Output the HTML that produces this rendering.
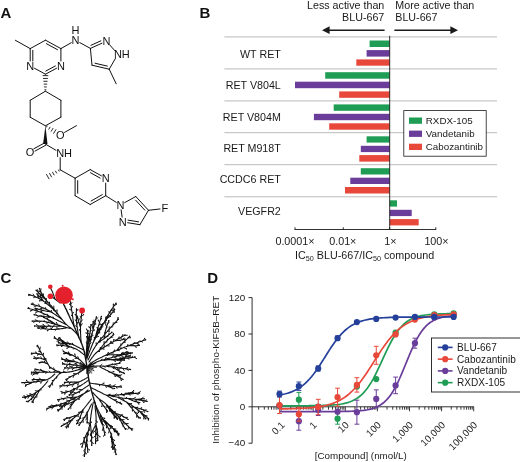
<!DOCTYPE html>
<html><head><meta charset="utf-8"><title>Figure</title>
<style>
html,body{margin:0;padding:0;background:#fff;}
svg{display:block;font-family:"Liberation Sans",Arial,Helvetica,sans-serif;}
.pl{font-weight:bold;font-size:15px;fill:#111;}
</style></head><body>
<svg width="520" height="462" viewBox="0 0 520 462">
<rect width="520" height="462" fill="#fff"/>
<g id="A">
<line x1="30.20" y1="48.60" x2="45.50" y2="40.20" stroke="#111" stroke-width="1.0" stroke-linecap="round"/>
<line x1="45.50" y1="40.20" x2="60.90" y2="48.60" stroke="#111" stroke-width="1.0" stroke-linecap="round"/>
<line x1="46.41" y1="43.66" x2="57.50" y2="49.71" stroke="#111" stroke-width="1.0" stroke-linecap="round"/>
<line x1="60.90" y1="48.60" x2="60.90" y2="61.00" stroke="#111" stroke-width="1.0" stroke-linecap="round"/>
<line x1="56.59" y1="68.22" x2="45.50" y2="74.20" stroke="#111" stroke-width="1.0" stroke-linecap="round"/>
<line x1="55.35" y1="65.94" x2="45.82" y2="71.07" stroke="#111" stroke-width="1.0" stroke-linecap="round"/>
<line x1="45.50" y1="74.20" x2="34.51" y2="68.24" stroke="#111" stroke-width="1.0" stroke-linecap="round"/>
<line x1="30.20" y1="61.00" x2="30.20" y2="48.60" stroke="#111" stroke-width="1.0" stroke-linecap="round"/>
<line x1="32.80" y1="61.00" x2="32.80" y2="50.34" stroke="#111" stroke-width="1.0" stroke-linecap="round"/>
<line x1="30.20" y1="48.60" x2="15.40" y2="40.30" stroke="#111" stroke-width="1.0" stroke-linecap="round"/>
<line x1="60.90" y1="48.60" x2="71.24" y2="42.72" stroke="#111" stroke-width="1.0" stroke-linecap="round"/>
<line x1="79.80" y1="42.64" x2="90.40" y2="48.40" stroke="#111" stroke-width="1.0" stroke-linecap="round"/>
<line x1="90.40" y1="48.40" x2="101.93" y2="43.21" stroke="#111" stroke-width="1.0" stroke-linecap="round"/>
<line x1="90.95" y1="45.30" x2="100.86" y2="40.84" stroke="#111" stroke-width="1.0" stroke-linecap="round"/>
<line x1="109.65" y1="44.87" x2="114.65" y2="50.53" stroke="#111" stroke-width="1.0" stroke-linecap="round"/>
<line x1="115.44" y1="58.44" x2="109.20" y2="69.20" stroke="#111" stroke-width="1.0" stroke-linecap="round"/>
<line x1="109.20" y1="69.20" x2="92.00" y2="65.20" stroke="#111" stroke-width="1.0" stroke-linecap="round"/>
<line x1="107.38" y1="66.11" x2="95.00" y2="63.23" stroke="#111" stroke-width="1.0" stroke-linecap="round"/>
<line x1="92.00" y1="65.20" x2="90.40" y2="48.40" stroke="#111" stroke-width="1.0" stroke-linecap="round"/>
<line x1="109.20" y1="69.20" x2="116.20" y2="83.80" stroke="#111" stroke-width="1.0" stroke-linecap="round"/>
<line x1="44.83" y1="89.78" x2="45.99" y2="89.79" stroke="#111" stroke-width="0.9" stroke-linecap="round"/>
<line x1="44.48" y1="86.94" x2="46.37" y2="86.96" stroke="#111" stroke-width="0.9" stroke-linecap="round"/>
<line x1="44.13" y1="84.11" x2="46.76" y2="84.12" stroke="#111" stroke-width="0.9" stroke-linecap="round"/>
<line x1="43.78" y1="81.27" x2="47.14" y2="81.29" stroke="#111" stroke-width="0.9" stroke-linecap="round"/>
<line x1="43.43" y1="78.44" x2="47.52" y2="78.46" stroke="#111" stroke-width="0.9" stroke-linecap="round"/>
<line x1="43.08" y1="75.60" x2="47.91" y2="75.63" stroke="#111" stroke-width="0.9" stroke-linecap="round"/>
<line x1="45.40" y1="91.20" x2="60.90" y2="100.30" stroke="#111" stroke-width="1.0" stroke-linecap="round"/>
<line x1="60.90" y1="100.30" x2="60.90" y2="117.20" stroke="#111" stroke-width="1.0" stroke-linecap="round"/>
<line x1="60.90" y1="117.20" x2="45.40" y2="125.80" stroke="#111" stroke-width="1.0" stroke-linecap="round"/>
<line x1="45.40" y1="125.80" x2="30.20" y2="117.20" stroke="#111" stroke-width="1.0" stroke-linecap="round"/>
<line x1="30.20" y1="117.20" x2="30.20" y2="100.30" stroke="#111" stroke-width="1.0" stroke-linecap="round"/>
<line x1="30.20" y1="100.30" x2="45.40" y2="91.20" stroke="#111" stroke-width="1.0" stroke-linecap="round"/>
<line x1="47.07" y1="126.05" x2="46.40" y2="127.16" stroke="#111" stroke-width="0.9" stroke-linecap="round"/>
<line x1="50.01" y1="127.24" x2="48.82" y2="129.21" stroke="#111" stroke-width="0.9" stroke-linecap="round"/>
<line x1="52.94" y1="128.43" x2="51.24" y2="131.25" stroke="#111" stroke-width="0.9" stroke-linecap="round"/>
<line x1="55.88" y1="129.62" x2="53.66" y2="133.30" stroke="#111" stroke-width="0.9" stroke-linecap="round"/>
<line x1="64.57" y1="132.39" x2="76.40" y2="125.70" stroke="#111" stroke-width="1.0" stroke-linecap="round"/>
<polygon points="45.40,125.80 43.10,143.99 47.50,144.01" fill="#111"/>
<line x1="44.68" y1="142.86" x2="33.78" y2="148.81" stroke="#111" stroke-width="1.0" stroke-linecap="round"/>
<line x1="45.92" y1="145.14" x2="35.02" y2="151.09" stroke="#111" stroke-width="1.0" stroke-linecap="round"/>
<line x1="45.30" y1="144.00" x2="55.98" y2="150.31" stroke="#111" stroke-width="1.0" stroke-linecap="round"/>
<line x1="60.20" y1="157.70" x2="60.20" y2="169.80" stroke="#111" stroke-width="1.0" stroke-linecap="round"/>
<line x1="59.12" y1="171.11" x2="58.52" y2="170.01" stroke="#111" stroke-width="0.9" stroke-linecap="round"/>
<line x1="56.59" y1="173.03" x2="55.53" y2="171.13" stroke="#111" stroke-width="0.9" stroke-linecap="round"/>
<line x1="54.05" y1="174.96" x2="52.55" y2="172.24" stroke="#111" stroke-width="0.9" stroke-linecap="round"/>
<line x1="51.51" y1="176.88" x2="49.57" y2="173.36" stroke="#111" stroke-width="0.9" stroke-linecap="round"/>
<line x1="48.97" y1="178.80" x2="46.59" y2="174.48" stroke="#111" stroke-width="0.9" stroke-linecap="round"/>
<line x1="60.20" y1="169.80" x2="75.10" y2="178.20" stroke="#111" stroke-width="1.0" stroke-linecap="round"/>
<line x1="75.10" y1="178.20" x2="90.20" y2="169.60" stroke="#111" stroke-width="1.0" stroke-linecap="round"/>
<line x1="90.20" y1="169.60" x2="101.42" y2="175.82" stroke="#111" stroke-width="1.0" stroke-linecap="round"/>
<line x1="90.51" y1="172.74" x2="100.15" y2="178.10" stroke="#111" stroke-width="1.0" stroke-linecap="round"/>
<line x1="105.70" y1="183.10" x2="105.70" y2="195.70" stroke="#111" stroke-width="1.0" stroke-linecap="round"/>
<line x1="105.70" y1="195.70" x2="90.20" y2="204.50" stroke="#111" stroke-width="1.0" stroke-linecap="round"/>
<line x1="102.25" y1="194.67" x2="91.09" y2="201.01" stroke="#111" stroke-width="1.0" stroke-linecap="round"/>
<line x1="90.20" y1="204.50" x2="75.10" y2="195.70" stroke="#111" stroke-width="1.0" stroke-linecap="round"/>
<line x1="75.10" y1="195.70" x2="75.10" y2="178.20" stroke="#111" stroke-width="1.0" stroke-linecap="round"/>
<line x1="77.70" y1="193.25" x2="77.70" y2="180.65" stroke="#111" stroke-width="1.0" stroke-linecap="round"/>
<line x1="105.70" y1="195.70" x2="116.26" y2="202.38" stroke="#111" stroke-width="1.0" stroke-linecap="round"/>
<line x1="121.09" y1="209.85" x2="122.11" y2="217.05" stroke="#111" stroke-width="1.0" stroke-linecap="round"/>
<line x1="127.64" y1="222.69" x2="139.90" y2="224.70" stroke="#111" stroke-width="1.0" stroke-linecap="round"/>
<line x1="128.06" y1="220.13" x2="138.60" y2="221.85" stroke="#111" stroke-width="1.0" stroke-linecap="round"/>
<line x1="139.90" y1="224.70" x2="148.50" y2="210.30" stroke="#111" stroke-width="1.0" stroke-linecap="round"/>
<line x1="148.50" y1="210.30" x2="135.80" y2="196.50" stroke="#111" stroke-width="1.0" stroke-linecap="round"/>
<line x1="144.81" y1="210.13" x2="135.66" y2="200.19" stroke="#111" stroke-width="1.0" stroke-linecap="round"/>
<line x1="135.80" y1="196.50" x2="124.69" y2="202.63" stroke="#111" stroke-width="1.0" stroke-linecap="round"/>
<line x1="148.50" y1="210.30" x2="160.03" y2="208.96" stroke="#111" stroke-width="1.0" stroke-linecap="round"/>
<text x="60.90" y="69.85" font-size="11.0" text-anchor="middle" fill="#111">N</text>
<text x="30.20" y="69.85" font-size="11.0" text-anchor="middle" fill="#111">N</text>
<text x="75.50" y="44.25" font-size="11.0" text-anchor="middle" fill="#111">N</text>
<text x="106.40" y="45.15" font-size="11.0" text-anchor="middle" fill="#111">N</text>
<text x="117.90" y="58.15" font-size="11.0" text-anchor="middle" fill="#111">N</text>
<text x="60.30" y="138.75" font-size="11.0" text-anchor="middle" fill="#111">O</text>
<text x="30.10" y="156.25" font-size="11.0" text-anchor="middle" fill="#111">O</text>
<text x="60.20" y="156.75" font-size="11.0" text-anchor="middle" fill="#111">N</text>
<text x="105.70" y="182.15" font-size="11.0" text-anchor="middle" fill="#111">N</text>
<text x="120.40" y="208.95" font-size="11.0" text-anchor="middle" fill="#111">N</text>
<text x="122.80" y="225.85" font-size="11.0" text-anchor="middle" fill="#111">N</text>
<text x="164.90" y="212.35" font-size="11.0" text-anchor="middle" fill="#111">F</text>
<text x="75.50" y="33.75" font-size="11.0" text-anchor="middle" fill="#111">H</text>
<text x="125.80" y="58.15" font-size="11.0" text-anchor="middle" fill="#111">H</text>
<text x="68.10" y="156.75" font-size="11.0" text-anchor="middle" fill="#111">H</text>
</g>
<g id="B">
<line x1="224.4" y1="36.9" x2="497" y2="36.9" stroke="#a8a8a8" stroke-width="0.8"/>
<line x1="224.4" y1="68.9" x2="497" y2="68.9" stroke="#a8a8a8" stroke-width="0.8"/>
<line x1="224.4" y1="100.9" x2="497" y2="100.9" stroke="#a8a8a8" stroke-width="0.8"/>
<line x1="224.4" y1="132.7" x2="497" y2="132.7" stroke="#a8a8a8" stroke-width="0.8"/>
<line x1="224.4" y1="164.7" x2="497" y2="164.7" stroke="#a8a8a8" stroke-width="0.8"/>
<line x1="224.4" y1="196.8" x2="497" y2="196.8" stroke="#a8a8a8" stroke-width="0.8"/>
<rect x="369.60" y="40.50" width="20.10" height="6.50" fill="#1f9d55"/>
<rect x="366.60" y="50.10" width="23.10" height="6.50" fill="#6a3d9a"/>
<rect x="356.30" y="59.40" width="33.40" height="6.30" fill="#e8483a"/>
<rect x="325.20" y="72.20" width="64.50" height="6.50" fill="#1f9d55"/>
<rect x="295.00" y="81.70" width="94.70" height="6.50" fill="#6a3d9a"/>
<rect x="339.20" y="91.40" width="50.50" height="6.40" fill="#e8483a"/>
<rect x="333.70" y="104.40" width="56.00" height="6.40" fill="#1f9d55"/>
<rect x="313.90" y="113.80" width="75.80" height="6.40" fill="#6a3d9a"/>
<rect x="329.20" y="123.30" width="60.50" height="6.40" fill="#e8483a"/>
<rect x="366.60" y="136.30" width="23.10" height="6.30" fill="#1f9d55"/>
<rect x="360.80" y="145.80" width="28.90" height="6.30" fill="#6a3d9a"/>
<rect x="359.30" y="155.10" width="30.40" height="6.50" fill="#e8483a"/>
<rect x="360.80" y="168.20" width="28.90" height="6.30" fill="#1f9d55"/>
<rect x="350.30" y="177.70" width="39.40" height="6.30" fill="#6a3d9a"/>
<rect x="345.00" y="187.00" width="44.70" height="6.50" fill="#e8483a"/>
<rect x="389.70" y="200.30" width="7.30" height="6.30" fill="#1f9d55"/>
<rect x="389.70" y="209.80" width="22.00" height="6.30" fill="#6a3d9a"/>
<rect x="389.70" y="219.10" width="29.00" height="6.30" fill="#e8483a"/>
<line x1="389.7" y1="35.8" x2="389.7" y2="229.5" stroke="#1a1a1a" stroke-width="0.9"/>
<line x1="294.6" y1="229.5" x2="436.2" y2="229.5" stroke="#1a1a1a" stroke-width="0.9"/>
<line x1="295" y1="227.3" x2="295" y2="229.5" stroke="#1a1a1a" stroke-width="0.9"/>
<line x1="343.3" y1="227.3" x2="343.3" y2="229.5" stroke="#1a1a1a" stroke-width="0.9"/>
<line x1="389.7" y1="227.3" x2="389.7" y2="229.5" stroke="#1a1a1a" stroke-width="0.9"/>
<line x1="435.8" y1="227.3" x2="435.8" y2="229.5" stroke="#1a1a1a" stroke-width="0.9"/>
<line x1="327" y1="30.2" x2="384.6" y2="30.2" stroke="#1a1a1a" stroke-width="1.5"/>
<polygon points="322,30.2 329.6,26.3 329.6,34.1" fill="#1a1a1a"/>
<line x1="394.4" y1="30.2" x2="453" y2="30.2" stroke="#1a1a1a" stroke-width="1.5"/>
<polygon points="458,30.2 450.4,26.3 450.4,34.1" fill="#1a1a1a"/>
<text x="384.3" y="9.3" font-size="10.7" text-anchor="end" fill="#1a1a1a" >Less active than</text>
<text x="384.3" y="21.0" font-size="10.7" text-anchor="end" fill="#1a1a1a" >BLU-667</text>
<text x="395.3" y="9.3" font-size="10.7" text-anchor="start" fill="#1a1a1a" >More active than</text>
<text x="395.3" y="21.0" font-size="10.7" text-anchor="start" fill="#1a1a1a" >BLU-667</text>
<text x="280.8" y="57.8" font-size="10.7" text-anchor="end" fill="#1a1a1a" >WT RET</text>
<text x="280.8" y="89.2" font-size="10.7" text-anchor="end" fill="#1a1a1a" >RET V804L</text>
<text x="280.8" y="120.6" font-size="10.7" text-anchor="end" fill="#1a1a1a" >RET V804M</text>
<text x="280.8" y="152.0" font-size="10.7" text-anchor="end" fill="#1a1a1a" >RET M918T</text>
<text x="280.8" y="183.4" font-size="10.7" text-anchor="end" fill="#1a1a1a" >CCDC6 RET</text>
<text x="280.8" y="214.8" font-size="10.7" text-anchor="end" fill="#1a1a1a" >VEGFR2</text>
<text x="295" y="244.6" font-size="10.75" text-anchor="middle" fill="#1a1a1a" >0.0001×</text>
<text x="342.8" y="244.6" font-size="10.75" text-anchor="middle" fill="#1a1a1a" >0.01×</text>
<text x="390.5" y="244.6" font-size="10.75" text-anchor="middle" fill="#1a1a1a" >1×</text>
<text x="436.5" y="244.6" font-size="10.75" text-anchor="middle" fill="#1a1a1a" >100×</text>
<text x="364.6" y="259.4" font-size="10.75" text-anchor="middle" fill="#1a1a1a">IC<tspan font-size="7.2" dy="2">50</tspan><tspan dy="-2"> BLU-667/IC</tspan><tspan font-size="7.2" dy="2">50</tspan><tspan dy="-2"> compound</tspan></text>
<rect x="403.8" y="110.6" width="82.4" height="45.6" fill="#fff" stroke="#1a1a1a" stroke-width="0.8"/>
<rect x="409" y="117.50" width="13" height="6.3" fill="#1f9d55"/>
<text x="425.8" y="123.8" font-size="9.8" text-anchor="start" fill="#1a1a1a" >RXDX-105</text>
<rect x="409" y="130.60" width="13" height="6.3" fill="#6a3d9a"/>
<text x="425.8" y="136.9" font-size="9.8" text-anchor="start" fill="#1a1a1a" >Vandetanib</text>
<rect x="409" y="143.70" width="13" height="6.3" fill="#e8483a"/>
<text x="425.8" y="150.0" font-size="9.8" text-anchor="start" fill="#1a1a1a" >Cabozantinib</text>
</g>
<g id="C">
<path d="M87.0 367.0 87.1 367.7 87.2 368.6 87.4 369.6 87.5 370.8 87.7 372.0 87.9 373.4 88.1 374.8 88.3 376.2 88.5 377.7 88.8 379.2 89.0 380.6 89.3 382.0 89.5 383.1 89.8 384.3 90.1 385.4 90.4 386.6 90.7 387.8 91.0 389.0 91.3 390.3 91.7 391.5 92.0 392.7 92.4 394.0 92.7 395.2 93.0 396.4 93.4 397.5 93.7 398.7 94.0 399.8 94.4 401.1 94.7 402.3 95.1 403.6 95.5 404.9 95.8 406.1 96.2 407.3 96.6 408.5 96.9 409.7 97.3 410.9 97.6 412.0 98.0 413.0 98.3 414.0 98.6 415.0 99.1 416.5 99.6 417.9 100.1 419.2 100.6 420.4 101.0 421.6 101.4 422.5 101.7 423.3 102.0 424.0 M87.0 367.0 86.9 366.2 86.7 365.1 86.5 363.7 86.2 362.3 86.0 360.8 85.7 359.3 85.5 358.0 85.2 356.6 85.0 355.3 84.7 353.9 84.5 352.6 84.1 351.3 83.8 350.0 83.5 348.9 83.1 347.7 82.7 346.5 82.3 345.4 81.9 344.2 81.4 343.1 81.0 342.0 80.5 340.8 80.0 339.6 79.4 338.5 78.8 337.3 78.3 336.1 77.7 334.8 77.2 333.6 76.7 332.4 76.1 331.1 75.6 329.8 75.1 328.5 74.5 327.2 74.0 326.0 73.5 324.8 72.9 323.7 72.4 322.6 71.8 321.5 71.3 320.4 70.7 319.3 70.2 318.2 69.7 317.0 69.1 315.8 68.6 314.6 68.0 313.4 67.5 312.2 67.0 311.1 66.5 310.0 65.8 308.6 65.1 307.2 64.5 305.9 63.9 304.8 63.5 304.0" stroke="#111" stroke-width="1.4" fill="none" stroke-linecap="round" stroke-linejoin="round"/>
<path d="M77.7 334.8 77.1 334.2 76.3 333.3 75.3 332.2 74.2 331.1 73.1 330.0 72.0 329.0 71.2 328.3 70.4 327.7 69.6 327.2 68.8 326.6 67.9 325.9 66.8 324.9 65.5 323.6 64.9 322.9 64.2 322.1 63.5 321.3 62.8 320.4 62.0 319.4 61.2 318.4 60.4 317.4 59.5 316.3 58.7 315.2 57.9 314.1 57.0 313.1 56.2 312.0 55.4 311.0 54.6 310.0 53.9 309.1 53.2 308.2 52.5 307.4 51.5 306.2 50.5 305.1 49.6 304.0 48.7 303.1 47.9 302.2 47.1 301.3 46.4 300.5 45.6 299.7 44.8 298.8 44.0 298.0 43.1 297.0 42.1 296.0 41.1 295.0 40.1 294.0 39.1 293.1 38.2 292.2 37.4 291.5 36.7 290.8 36.2 290.3 M56.0 312.0 55.5 311.5 54.8 310.9 54.0 310.1 53.1 309.2 52.1 308.3 51.0 307.4 50.0 306.4 48.9 305.4 47.9 304.5 46.9 303.7 46.0 303.0 44.8 302.1 43.7 301.3 42.5 300.6 41.4 299.9 40.3 299.2 39.2 298.6 38.1 298.0 37.0 297.5 35.7 296.9 34.4 296.3 33.0 295.8 31.8 295.4 30.6 295.0 29.6 294.7 28.9 294.4 M43.7 301.3 42.8 300.2 41.6 298.7 40.5 297.5 39.3 296.3 38.0 294.9 37.0 293.9 M62.0 319.5 61.4 319.1 60.7 318.5 59.8 317.9 58.8 317.1 57.7 316.3 56.6 315.5 55.4 314.7 54.2 313.9 53.1 313.2 52.0 312.5 50.9 311.9 49.8 311.3 48.7 310.7 47.6 310.1 46.5 309.5 45.3 308.9 44.2 308.4 43.1 307.9 42.0 307.4 41.0 307.0 39.7 306.5 38.3 306.0 36.9 305.6 35.5 305.2 34.2 304.9 33.1 304.6 32.1 304.3 31.4 304.1 M50.9 311.9 50.0 311.7 48.6 311.5 47.1 311.3 45.6 311.0 44.3 310.7 43.0 310.4 41.7 310.1 40.4 309.7 39.0 309.4 37.5 309.0 36.1 308.6 35.2 308.4 M66.0 324.5 65.4 324.2 64.6 323.8 63.6 323.3 62.6 322.8 61.5 322.2 60.3 321.6 59.0 321.0 57.7 320.3 56.5 319.7 55.2 319.1 54.0 318.5 52.9 318.0 51.8 317.4 50.6 316.8 49.4 316.3 48.2 315.7 47.0 315.1 45.8 314.5 44.6 314.0 43.4 313.4 42.2 312.9 41.1 312.4 40.0 312.0 38.7 311.5 37.3 311.0 35.9 310.5 34.5 310.1 33.2 309.7 31.9 309.3 30.7 309.0 29.7 308.7 28.8 308.4 28.1 308.2 M50.6 316.8 49.6 316.8 48.2 316.8 46.6 316.8 45.1 316.8 43.7 316.6 42.3 316.5 40.9 316.3 39.6 316.0 38.1 315.7 36.5 315.3 35.2 315.0 34.2 314.7 M70.0 328.5 69.3 328.3 68.4 328.0 67.3 327.7 66.2 327.4 64.9 327.0 63.5 326.6 62.1 326.2 60.7 325.8 59.3 325.4 58.0 325.0 56.9 324.7 55.8 324.4 54.6 324.1 53.4 323.7 52.2 323.4 51.0 323.1 49.8 322.7 48.6 322.4 47.4 322.2 46.2 321.9 45.1 321.7 44.0 321.5 42.5 321.3 41.0 321.2 39.5 321.1 38.0 321.1 36.5 321.1 35.2 321.1 34.0 321.1 33.0 321.1 32.2 321.1 M55.8 324.4 54.8 323.7 53.4 322.8 51.9 321.8 50.6 321.0 49.3 320.3 47.9 319.6 46.4 318.7 44.9 318.0 43.8 317.4 M62.0 326.3 61.3 326.3 60.3 326.3 59.2 326.3 57.9 326.3 56.5 326.3 55.1 326.3 53.6 326.2 52.2 326.2 50.7 326.2 49.3 326.2 48.0 326.2 46.7 326.2 45.3 326.2 43.9 326.1 42.5 326.1 41.1 326.1 39.8 326.1 38.5 326.1 37.3 326.0 36.2 326.0 35.3 326.0 34.6 326.0 M46.7 326.2 45.5 326.6 43.9 327.1 42.5 327.4 41.0 327.8 39.4 328.1 38.1 328.3 M66.0 328.0 65.3 328.1 64.4 328.2 63.3 328.4 62.0 328.6 60.7 328.8 59.3 329.0 57.9 329.2 56.5 329.3 55.2 329.4 54.0 329.5 52.7 329.5 51.2 329.4 49.8 329.3 48.3 329.2 46.9 329.0 45.6 328.9 44.4 328.7 43.5 328.6 42.7 328.5 M48.0 302.5 47.5 301.8 46.8 300.9 46.0 299.8 45.2 298.6 44.3 297.3 43.4 296.1 42.6 295.0 42.0 294.0 41.2 292.6 40.6 291.3 40.2 290.2 39.8 289.2 39.5 288.5 M60.0 303.0 59.3 302.4 58.3 301.6 57.2 300.7 56.0 299.8 55.0 299.0 53.4 298.0 52.0 297.1 51.0 296.5 M55.0 299.0 54.7 298.2 54.3 297.1 53.9 295.8 53.4 294.4 52.9 293.1 52.5 292.0 51.7 290.3 51.0 288.9 50.5 288.0 M74.0 326.0 73.9 325.3 73.8 324.3 73.6 323.2 73.4 321.9 73.2 320.5 73.0 319.1 72.8 317.7 72.6 316.3 72.5 315.1 72.3 314.0 72.1 312.4 71.8 310.9 71.6 309.5 71.4 308.2 71.2 307.1 71.0 306.0 70.8 304.2 70.6 302.9 70.5 302.0 M81.0 342.0 81.0 341.3 80.9 340.3 80.9 339.2 80.8 338.0 80.7 336.6 80.7 335.2 80.6 333.8 80.5 332.5 80.5 331.2 80.5 330.0 80.5 328.6 80.5 327.3 80.6 326.0 80.7 324.7 80.7 323.4 80.8 322.2 80.9 321.1 81.0 320.0 81.2 318.3 81.3 316.6 81.5 315.2 81.7 313.9 81.8 313.0 M80.5 327.3 80.2 326.4 79.7 325.0 79.3 323.7 78.9 322.5 78.5 321.2 78.2 320.0 77.9 318.6 77.6 317.2 77.4 316.3 M79.0 338.0 78.9 337.3 78.7 336.3 78.5 335.2 78.3 334.0 78.0 332.6 77.8 331.2 77.6 329.8 77.3 328.5 77.2 327.2 77.0 326.0 76.8 324.6 76.7 323.3 76.6 322.0 76.5 320.7 76.4 319.4 76.4 318.2 76.3 317.1 76.3 316.0 76.3 314.3 76.3 312.6 76.4 311.2 76.5 309.9 76.5 309.0 M82.9 349.7 82.2 349.3 81.3 348.8 80.2 348.3 78.9 347.6 77.6 346.9 76.3 346.2 74.9 345.6 73.7 345.0 72.5 344.5 71.1 344.0 69.8 343.6 68.5 343.3 67.2 343.0 66.0 342.7 64.7 342.3 63.4 341.9 62.2 341.4 60.9 340.9 59.6 340.4 58.3 339.8 57.0 339.2 55.9 338.7 55.0 338.3 54.3 338.0 M69.8 343.6 68.8 343.6 67.4 343.6 66.0 343.6 64.7 343.6 63.4 343.5 62.2 343.4 60.8 343.2 59.4 342.9 58.4 342.7 M64.7 342.3 63.8 341.6 62.8 340.8 61.7 340.1 60.7 339.5 59.5 338.8 58.6 338.3 M84.5 355.0 83.9 354.5 83.0 353.9 82.0 353.1 80.9 352.2 79.7 351.3 78.4 350.4 77.2 349.6 76.0 349.0 74.8 348.5 73.6 348.0 72.3 347.6 71.0 347.2 69.8 346.8 68.5 346.5 67.2 346.3 66.0 346.0 64.6 345.7 63.1 345.5 61.6 345.4 60.1 345.3 58.8 345.2 57.7 345.1 56.9 345.0 M69.8 346.8 68.7 346.1 67.4 345.3 66.2 344.5 65.0 343.8 63.6 343.0 62.5 342.4 M86.0 356.0 86.1 355.2 86.1 354.1 86.2 352.9 86.4 351.4 86.5 349.9 86.6 348.4 86.7 346.9 86.8 345.4 86.9 344.1 87.0 343.0 87.1 341.2 87.2 339.7 87.3 338.4 87.4 337.2 87.5 336.0 87.6 334.4 87.8 332.9 87.9 331.5 88.0 330.6 M86.7 346.9 87.3 345.5 88.0 343.6 88.6 342.0 89.2 340.3 89.7 338.4 90.0 336.9 M86.3 357.0 86.4 356.2 86.6 355.3 86.8 354.1 87.0 352.8 87.2 351.4 87.4 349.9 87.7 348.4 87.9 346.9 88.1 345.5 88.3 344.2 88.5 343.0 88.7 341.5 88.9 340.2 89.1 338.9 89.3 337.7 89.5 336.5 89.7 335.3 89.8 334.2 90.0 333.0 90.2 331.6 90.4 330.2 90.5 328.8 90.7 327.5 90.8 326.3 90.9 325.3 91.0 324.5 M88.7 341.5 88.5 340.0 88.2 338.0 87.9 336.3 87.7 334.5 87.6 332.5 87.5 330.9 M86.5 358.0 86.7 357.3 86.9 356.3 87.1 355.3 87.4 354.0 87.7 352.7 88.1 351.3 88.4 349.9 88.7 348.4 89.1 347.0 89.4 345.6 89.7 344.2 90.0 343.0 90.3 341.7 90.6 340.5 90.8 339.3 91.1 338.1 91.4 337.0 91.6 335.8 91.9 334.6 92.2 333.5 92.4 332.3 92.7 331.2 93.0 330.0 93.3 328.8 93.6 327.5 94.0 326.1 94.3 324.7 94.7 323.4 95.1 322.0 95.4 320.8 95.7 319.6 96.0 318.6 96.2 317.7 96.4 317.0 M93.0 330.0 92.9 328.8 92.9 327.2 92.9 325.8 92.9 324.3 93.1 322.8 93.2 321.5 M86.8 359.0 87.0 358.3 87.4 357.5 87.7 356.6 88.1 355.5 88.5 354.4 89.0 353.1 89.4 351.8 89.9 350.5 90.5 349.2 91.0 347.8 91.5 346.5 92.0 345.3 92.5 344.1 93.0 343.0 93.6 341.8 94.1 340.7 94.7 339.6 95.3 338.5 95.8 337.5 96.4 336.4 97.0 335.4 97.6 334.3 98.2 333.3 98.9 332.2 99.5 331.0 100.2 329.8 100.8 328.8 101.3 327.7 101.9 326.6 102.5 325.4 103.1 324.3 103.8 323.1 104.4 321.9 105.0 320.7 105.7 319.5 106.3 318.4 106.9 317.2 107.5 316.1 108.1 315.1 108.7 314.1 109.2 313.2 110.0 311.9 110.8 310.6 111.6 309.4 112.4 308.3 113.2 307.2 113.9 306.2 114.5 305.3 115.1 304.5 115.6 303.9 116.0 303.3 M94.7 339.6 94.9 338.7 95.2 337.6 95.6 336.2 96.0 334.7 96.4 333.2 96.8 331.8 97.2 330.5 97.6 329.3 97.9 328.0 98.3 326.7 98.7 325.4 99.1 324.1 99.5 322.7 99.9 321.3 100.4 319.8 100.8 318.4 101.1 317.2 101.4 316.4 M105.0 320.7 105.7 320.1 106.5 319.1 107.5 318.1 108.4 317.1 109.3 316.2 110.1 315.3 110.9 314.4 111.7 313.5 112.5 312.4 113.3 311.2 114.1 310.2 114.6 309.5 M93.0 343.0 93.3 342.3 93.6 341.4 94.0 340.3 94.5 339.0 95.0 337.7 95.5 336.3 96.1 334.9 96.7 333.5 97.3 332.2 98.0 331.0 98.7 329.9 99.4 328.8 100.2 327.6 101.1 326.5 102.0 325.3 102.8 324.2 103.7 323.1 104.5 322.2 105.2 321.3 105.8 320.6 106.2 320.0 M88.0 360.0 88.3 359.4 88.7 358.6 89.2 357.7 89.7 356.6 90.3 355.5 90.9 354.3 91.5 353.0 92.2 351.8 92.9 350.5 93.6 349.3 94.3 348.1 95.0 347.0 95.6 346.0 96.3 345.1 97.0 344.1 97.7 343.2 98.4 342.2 99.1 341.3 99.8 340.4 100.6 339.4 101.3 338.5 102.1 337.5 103.0 336.5 103.8 335.5 104.7 334.4 105.5 333.5 106.3 332.5 107.2 331.5 108.1 330.4 109.1 329.3 110.1 328.2 111.1 327.1 112.1 326.0 113.1 324.9 114.0 323.9 114.9 322.9 115.8 322.0 116.5 321.1 117.2 320.4 117.8 319.7 118.3 319.2 M98.4 342.2 99.2 341.7 100.5 341.0 101.9 340.1 103.2 339.3 104.3 338.5 105.4 337.6 106.5 336.7 107.6 335.8 108.8 334.8 110.0 333.8 111.2 332.9 111.9 332.3 M104.7 334.4 105.0 333.2 105.3 331.5 105.7 329.8 106.2 328.2 106.6 326.7 107.1 325.2 107.7 323.6 108.4 321.9 108.8 320.8 M89.0 362.0 89.4 361.4 90.0 360.6 90.6 359.6 91.4 358.6 92.2 357.4 93.1 356.3 94.0 355.1 95.0 354.0 96.0 353.0 96.9 352.2 97.8 351.5 98.7 350.8 99.7 350.1 100.7 349.4 101.7 348.7 102.8 348.0 104.0 347.3 105.2 346.6 106.4 345.8 107.7 345.0 108.7 344.4 109.7 343.8 110.8 343.1 112.0 342.4 113.3 341.7 114.5 341.0 115.8 340.2 117.1 339.5 118.3 338.8 119.5 338.1 120.7 337.5 121.8 336.8 122.7 336.3 123.6 335.8 124.4 335.4 125.0 335.0 M98.7 350.8 99.2 350.2 99.9 349.3 100.7 348.2 101.5 347.1 102.4 346.0 103.2 345.0 104.0 344.1 104.8 343.1 105.7 342.2 106.5 341.3 107.3 340.4 108.2 339.6 109.1 338.6 110.2 337.7 111.2 336.7 112.2 335.9 113.1 335.1 113.7 334.6 M114.5 341.0 115.9 340.8 117.7 340.5 119.3 340.3 120.9 340.0 122.7 339.6 124.1 339.3 M87.0 367.0 87.5 366.5 88.2 366.0 89.0 365.3 89.8 364.5 90.8 363.6 91.9 362.7 93.1 361.8 94.5 360.9 96.0 360.0 96.9 359.5 97.8 359.0 98.8 358.5 99.9 358.0 101.0 357.4 102.2 356.9 103.4 356.3 104.6 355.7 105.9 355.2 107.1 354.6 108.4 354.0 109.6 353.5 110.8 353.0 112.0 352.4 113.2 351.9 114.3 351.5 115.3 351.0 116.6 350.4 117.9 349.9 119.1 349.4 120.3 348.9 121.4 348.4 122.6 348.0 123.7 347.6 124.8 347.1 126.0 346.7 127.1 346.3 128.2 345.9 129.3 345.4 130.5 345.0 131.7 344.6 133.0 344.1 134.3 343.6 135.6 343.1 137.0 342.7 138.3 342.2 139.6 341.8 140.9 341.3 142.1 340.9 143.1 340.5 144.1 340.2 144.9 339.9 145.6 339.7 M107.1 354.6 107.9 354.6 108.9 354.7 110.1 354.8 111.5 354.8 112.9 354.9 114.3 354.9 115.5 354.9 116.7 354.9 117.9 354.8 119.1 354.7 120.3 354.6 121.5 354.5 122.7 354.4 123.9 354.2 125.2 354.1 126.6 353.9 127.9 353.6 129.3 353.4 130.5 353.2 131.5 353.0 132.2 352.9 M116.6 350.4 117.2 349.8 118.0 348.8 118.9 347.7 119.8 346.6 120.7 345.5 121.6 344.6 122.4 343.6 123.3 342.6 124.1 341.7 125.0 340.8 126.0 339.8 127.1 338.8 128.1 337.8 129.0 336.9 129.7 336.3 M128.2 345.9 129.2 345.8 130.5 345.8 131.9 345.8 133.2 345.8 134.4 345.8 135.6 345.7 137.0 345.6 138.4 345.4 139.3 345.3 M87.0 367.0 87.6 366.7 88.4 366.2 89.3 365.7 90.4 365.1 91.5 364.5 92.7 363.9 94.0 363.2 95.3 362.6 96.6 362.0 98.0 361.5 99.1 361.1 100.2 360.7 101.3 360.4 102.5 360.0 103.8 359.7 105.0 359.3 106.3 359.0 107.6 358.6 108.9 358.3 110.2 358.0 111.5 357.7 112.7 357.3 114.0 357.0 115.2 356.7 116.5 356.4 117.8 356.0 119.2 355.7 120.5 355.4 121.9 355.0 123.2 354.7 124.6 354.4 125.8 354.1 127.0 353.8 128.0 353.6 129.0 353.4 129.8 353.2 130.5 353.0 M106.3 359.0 107.1 359.1 108.3 359.3 109.6 359.5 111.0 359.7 112.3 359.9 113.5 359.9 114.7 360.0 116.0 360.0 117.2 360.1 118.4 360.1 119.7 360.1 121.1 360.1 122.5 360.1 123.6 360.1 124.5 360.1 M119.2 355.7 120.3 355.1 121.7 354.3 123.0 353.6 124.4 353.0 125.9 352.3 127.1 351.8 M104.0 360.0 104.7 360.0 105.6 359.9 106.6 359.9 107.8 359.8 109.0 359.7 110.4 359.7 111.8 359.6 113.2 359.5 114.6 359.4 116.0 359.3 117.4 359.2 118.8 359.1 120.0 359.0 121.3 358.9 122.7 358.7 124.2 358.5 125.6 358.3 127.1 358.1 128.5 357.9 129.9 357.7 131.1 357.6 132.3 357.4 133.4 357.2 134.3 357.1 135.0 357.0 M118.8 359.1 119.7 358.7 121.1 358.2 122.5 357.7 123.8 357.3 125.1 357.0 126.3 356.6 127.8 356.2 129.2 355.8 130.2 355.6 M87.0 367.0 87.7 366.9 88.6 366.8 89.7 366.7 90.8 366.6 92.1 366.4 93.5 366.3 94.9 366.2 96.3 366.1 97.7 366.0 99.0 366.0 100.2 366.0 101.4 366.0 102.6 366.1 103.8 366.2 105.0 366.2 106.3 366.3 107.6 366.4 108.9 366.6 110.2 366.7 111.6 366.8 113.0 367.0 114.2 367.1 115.5 367.3 116.8 367.5 118.3 367.7 119.7 367.9 121.2 368.1 122.6 368.3 124.0 368.5 125.4 368.7 126.7 368.9 127.8 369.1 128.9 369.3 129.8 369.4 130.5 369.5 M105.0 366.2 105.9 366.0 107.2 365.7 108.6 365.4 109.9 365.1 111.1 364.8 112.4 364.6 113.6 364.3 114.8 364.1 116.2 363.8 117.6 363.6 118.9 363.3 119.8 363.2 M113.0 367.0 113.9 367.6 115.3 368.6 116.7 369.4 117.9 370.2 119.2 370.9 120.5 371.6 121.9 372.4 123.4 373.1 124.4 373.6 M100.0 367.0 100.6 367.3 101.5 367.7 102.4 368.2 103.5 368.7 104.7 369.3 105.9 369.9 107.2 370.5 108.5 371.2 109.7 371.8 110.9 372.4 112.0 373.0 113.2 373.7 114.4 374.4 115.7 375.1 117.0 375.8 118.2 376.6 119.4 377.3 120.5 377.9 121.4 378.5 122.3 379.0 122.9 379.4 M113.2 373.7 114.2 373.9 115.6 374.2 116.8 374.6 117.9 375.0 119.2 375.5 120.2 375.9 M89.5 383.0 90.3 383.1 91.4 383.3 92.7 383.5 94.1 383.7 95.6 383.9 97.2 384.1 98.6 384.3 100.0 384.5 101.3 384.7 102.5 384.9 103.7 385.1 104.9 385.3 106.2 385.5 107.4 385.7 108.7 385.8 110.0 386.0 111.3 386.1 112.7 386.3 114.1 386.4 115.6 386.5 117.0 386.7 118.4 386.8 119.6 386.9 120.6 386.9 121.4 387.0 M106.2 385.5 107.3 386.1 108.9 386.8 110.3 387.3 111.7 387.8 113.3 388.2 114.6 388.5 M91.0 387.7 91.7 388.0 92.6 388.5 93.8 389.0 95.0 389.6 96.3 390.3 97.6 390.9 98.9 391.5 100.0 392.0 101.3 392.7 102.4 393.3 103.5 394.0 104.6 394.5 106.0 395.0 107.7 395.3 108.7 395.4 109.8 395.4 110.9 395.4 112.2 395.4 113.4 395.3 114.7 395.2 116.1 395.1 117.5 395.0 118.8 394.8 120.2 394.7 121.6 394.6 122.9 394.5 124.2 394.4 125.5 394.3 127.0 394.2 128.4 394.0 129.9 393.9 131.4 393.8 132.9 393.6 134.3 393.5 135.6 393.4 136.8 393.3 137.8 393.2 138.8 393.1 139.5 393.0 M106.0 395.0 106.7 395.4 107.7 396.1 108.8 396.8 110.0 397.5 111.1 398.2 112.1 398.8 113.2 399.4 114.2 400.0 115.2 400.6 116.3 401.2 117.4 401.8 118.7 402.5 119.8 403.1 120.8 403.7 121.6 404.0 M124.2 394.4 125.5 393.9 127.1 393.4 128.6 393.0 130.1 392.7 131.8 392.4 133.2 392.1 M110.0 395.5 110.7 395.7 111.6 395.9 112.7 396.1 113.9 396.4 115.2 396.7 116.6 397.0 118.0 397.3 119.4 397.6 120.7 397.8 122.0 398.0 123.2 398.2 124.4 398.3 125.6 398.4 126.8 398.4 127.9 398.5 129.1 398.6 130.3 398.6 131.5 398.7 132.8 398.9 134.0 399.0 135.2 399.2 136.5 399.4 137.8 399.6 139.2 399.9 140.6 400.1 141.9 400.4 143.2 400.6 144.4 400.9 145.4 401.1 146.3 401.3 147.0 401.4 M127.9 398.5 128.9 398.9 130.3 399.6 131.8 400.2 133.0 400.7 134.3 401.2 135.7 401.6 137.2 402.0 138.7 402.4 139.7 402.6 M136.5 399.4 137.6 399.3 139.0 399.1 140.3 399.0 141.5 398.9 143.0 398.8 144.1 398.7 M118.0 397.5 118.7 397.9 119.6 398.3 120.6 398.9 121.8 399.5 123.0 400.2 124.3 400.9 125.6 401.6 126.8 402.3 128.0 403.0 129.0 403.6 130.0 404.3 131.0 404.9 132.0 405.6 133.0 406.3 134.0 407.0 135.0 407.7 136.0 408.5 137.0 409.2 138.0 410.0 139.0 410.8 140.0 411.6 141.1 412.5 142.3 413.4 143.4 414.4 144.5 415.3 145.5 416.2 146.5 417.0 147.3 417.7 148.0 418.3 148.6 418.8 M134.0 407.0 134.8 407.2 136.0 407.6 137.3 408.0 138.6 408.3 139.7 408.7 140.9 409.0 142.0 409.4 143.2 409.7 144.4 410.2 145.7 410.7 146.9 411.2 147.7 411.5 M140.0 411.6 140.8 412.7 141.8 414.1 142.8 415.2 143.8 416.4 144.9 417.7 145.8 418.7 M126.0 401.5 126.5 402.1 127.1 402.8 127.9 403.7 128.8 404.7 129.7 405.8 130.6 406.9 131.6 408.0 132.5 409.1 133.3 410.1 134.0 411.0 134.9 412.2 135.8 413.4 136.6 414.5 137.4 415.6 138.0 416.6 138.6 417.4 139.0 418.0 M92.6 392.3 93.2 392.9 94.0 393.8 94.9 394.8 95.9 395.9 97.0 397.0 98.0 398.0 99.0 398.8 100.1 399.6 101.2 400.4 102.4 401.1 103.5 402.0 104.7 402.9 105.6 403.7 106.5 404.5 107.4 405.4 108.3 406.3 109.2 407.2 110.1 408.1 111.1 409.1 112.0 410.0 112.8 410.8 113.6 411.6 114.4 412.5 115.2 413.3 116.0 414.1 116.9 415.0 117.8 415.9 118.7 416.9 119.8 418.0 120.6 418.8 121.4 419.6 122.3 420.5 123.3 421.5 124.3 422.5 125.4 423.5 126.4 424.5 127.4 425.5 128.4 426.4 129.3 427.3 130.1 428.2 130.9 428.9 131.5 429.5 132.0 430.0 M106.5 404.5 106.9 405.2 107.5 406.2 108.2 407.4 108.9 408.6 109.6 409.7 110.3 410.7 111.1 411.7 111.8 412.7 112.6 413.7 113.4 414.6 114.2 415.6 115.2 416.7 116.1 417.7 116.9 418.6 117.4 419.2 M114.4 412.5 115.2 412.8 116.4 413.4 117.8 414.0 119.1 414.6 120.2 415.1 121.4 415.6 122.6 416.1 123.7 416.7 124.9 417.4 126.2 418.2 127.3 418.9 128.0 419.4 M118.7 416.9 119.3 418.0 120.0 419.6 120.8 421.1 121.5 422.5 122.2 423.9 123.0 425.2 123.9 426.7 124.8 428.2 125.5 429.2 M99.0 399.0 99.4 399.7 100.0 400.6 100.7 401.6 101.5 402.8 102.3 403.9 103.0 405.0 103.8 406.1 104.6 407.2 105.5 408.4 106.3 409.4 107.0 410.3 107.5 411.0 M108.0 406.0 108.5 406.6 109.1 407.5 109.8 408.6 110.7 409.7 111.5 410.9 112.3 412.0 113.0 413.0 113.8 414.1 114.6 415.3 115.4 416.4 116.1 417.5 116.8 418.4 117.2 419.0 M94.5 401.0 94.7 401.7 95.0 402.6 95.3 403.7 95.7 405.0 96.3 406.4 97.0 408.0 97.4 408.9 97.9 409.8 98.4 410.8 99.0 411.9 99.6 413.0 100.2 414.1 100.9 415.3 101.5 416.4 102.1 417.6 102.8 418.8 103.4 419.9 104.0 421.0 104.6 422.1 105.2 423.1 105.8 424.1 106.4 425.1 107.0 426.0 107.6 427.0 108.2 428.1 108.8 429.1 109.4 430.2 109.9 431.4 110.5 432.7 111.0 434.0 111.4 435.0 111.7 436.2 112.1 437.4 112.4 438.7 112.8 440.1 113.1 441.5 113.5 442.9 113.8 444.4 114.1 445.8 114.5 447.1 114.8 448.5 115.0 449.7 115.3 450.9 115.5 452.0 115.7 453.0 115.9 453.8 116.1 454.5 M102.8 418.8 103.4 419.3 104.2 420.1 105.2 421.0 106.3 422.0 107.3 423.0 108.3 423.9 109.2 424.8 110.1 425.7 111.0 426.6 111.9 427.5 112.8 428.4 113.7 429.3 114.6 430.2 115.6 431.3 116.6 432.4 117.5 433.4 118.3 434.2 118.8 434.8 M111.0 434.0 111.1 434.9 111.2 436.2 111.4 437.7 111.5 439.1 111.7 440.4 111.8 441.6 112.0 442.9 112.2 444.2 112.4 445.5 112.6 447.0 112.8 448.3 112.9 449.2 M102.0 419.0 102.6 419.6 103.5 420.3 104.4 421.2 105.5 422.2 106.7 423.2 107.9 424.2 109.0 425.1 110.0 426.0 111.1 426.9 112.3 427.8 113.5 428.8 114.7 429.6 115.7 430.4 116.6 431.0 117.2 431.5 M100.0 415.0 100.2 415.8 100.5 416.7 100.8 417.9 101.2 419.2 101.6 420.6 102.0 422.1 102.4 423.5 102.7 424.8 103.0 426.0 103.3 427.5 103.7 429.0 103.9 430.5 104.2 431.9 104.5 433.1 104.6 434.2 104.8 435.0 M95.0 406.0 95.1 406.8 95.2 407.8 95.3 409.0 95.5 410.4 95.7 411.8 95.8 413.3 95.9 414.7 96.0 416.0 96.1 417.2 96.1 418.3 96.1 419.4 96.1 420.5 96.1 421.7 96.1 423.0 96.0 424.4 96.0 426.0 96.0 427.1 96.0 428.3 95.9 429.6 95.9 431.0 95.8 432.4 95.8 433.9 95.8 435.4 95.7 436.8 95.7 438.2 95.6 439.6 95.6 440.8 95.5 441.9 95.5 442.8 95.5 443.5 M96.0 424.4 95.5 425.3 94.8 426.6 94.1 427.9 93.5 429.2 92.9 430.4 92.4 431.6 91.8 433.1 91.3 434.5 91.0 435.5 M96.0 424.0 96.2 424.9 96.4 426.1 96.7 427.5 97.0 429.0 97.3 430.6 97.5 432.0 97.6 433.3 97.7 434.6 97.7 436.0 97.7 437.4 97.7 438.6 97.7 439.6 97.7 440.4 M93.3 402.0 93.2 402.8 93.0 403.7 92.8 404.9 92.5 406.2 92.3 407.6 92.0 409.1 91.7 410.6 91.5 412.0 91.3 413.1 91.2 414.2 91.0 415.4 90.9 416.5 90.7 417.7 90.5 419.0 90.4 420.2 90.2 421.5 89.9 422.9 89.7 424.4 89.5 425.5 89.3 426.7 89.0 427.9 88.8 429.1 88.5 430.4 88.2 431.8 88.0 433.1 87.7 434.4 87.4 435.7 87.1 437.1 86.9 438.4 86.6 439.6 86.4 440.8 86.2 442.0 86.0 443.4 85.8 444.7 85.6 446.1 85.4 447.5 85.2 448.9 85.1 450.2 84.9 451.5 84.8 452.7 84.7 453.8 84.6 454.8 84.5 455.6 84.4 456.3 M90.2 421.5 90.3 422.4 90.4 423.6 90.5 425.0 90.7 426.5 90.8 428.0 91.0 429.5 91.1 430.8 91.2 432.1 91.3 433.4 91.4 434.7 91.5 436.1 91.6 437.4 91.6 438.8 91.6 440.3 91.7 441.8 91.7 443.3 91.7 444.5 91.7 445.3 M88.5 430.4 88.0 431.4 87.3 432.7 86.5 434.2 85.7 435.7 85.2 437.1 84.6 438.5 84.1 439.8 83.6 441.3 83.1 442.8 82.7 444.5 82.3 445.9 82.0 447.0 M86.4 440.8 86.6 441.8 86.8 443.2 87.1 444.6 87.3 445.8 87.4 447.1 87.5 448.3 87.7 449.7 87.7 451.1 87.8 452.1 M91.5 404.0 91.2 404.7 90.8 405.5 90.3 406.5 89.8 407.6 89.2 408.9 88.6 410.1 87.9 411.4 87.3 412.7 86.6 413.9 86.0 415.0 85.3 416.1 84.6 417.3 83.8 418.5 83.0 419.7 82.2 420.8 81.4 422.0 80.6 423.0 80.0 423.9 79.4 424.7 79.0 425.3 M87.3 412.7 87.3 414.2 87.3 416.1 87.3 417.8 87.3 419.4 87.2 421.4 87.1 422.8 M91.5 399.0 91.0 399.6 90.3 400.5 89.5 401.6 88.6 402.7 87.7 403.9 86.8 405.0 86.0 406.0 85.2 407.0 84.4 408.0 83.7 408.9 82.9 409.8 82.0 410.8 80.8 412.0 80.0 412.7 79.2 413.5 78.3 414.3 77.3 415.1 76.3 416.0 75.2 416.9 74.2 417.7 73.1 418.6 72.1 419.4 71.1 420.1 70.2 420.8 68.9 421.7 67.6 422.5 66.3 423.3 65.1 424.1 63.9 424.7 62.9 425.3 62.0 425.8 61.3 426.2 M82.9 409.8 82.6 410.7 82.2 411.9 81.6 413.3 81.1 414.6 80.7 415.8 80.2 417.0 79.7 418.2 79.2 419.4 78.5 420.6 77.8 421.9 77.1 423.0 76.6 423.8 M77.3 415.1 76.1 415.5 74.5 416.0 72.8 416.5 71.3 417.0 69.9 417.4 68.4 417.9 66.8 418.5 65.1 419.1 64.0 419.5 M72.1 419.4 71.3 420.6 70.3 422.2 69.4 423.6 68.4 424.9 67.3 426.5 66.5 427.7 M89.7 390.7 89.0 391.1 88.0 391.5 86.8 392.1 85.5 392.7 84.2 393.4 83.0 394.0 82.0 394.5 81.2 395.0 80.3 395.4 79.4 395.9 78.3 396.5 77.0 397.1 75.5 397.8 74.6 398.2 73.6 398.7 72.6 399.2 71.4 399.7 70.3 400.2 69.0 400.8 67.8 401.4 66.6 401.9 65.3 402.5 64.1 403.0 62.8 403.6 61.7 404.0 60.6 404.5 59.5 404.9 58.1 405.4 56.6 405.9 55.1 406.3 53.7 406.7 52.3 407.1 51.0 407.4 49.8 407.7 48.7 408.0 47.8 408.2 47.1 408.4 M77.0 397.1 76.1 397.1 74.9 397.2 73.4 397.3 71.9 397.4 70.5 397.5 69.2 397.7 67.9 397.8 66.6 398.0 65.3 398.2 64.1 398.4 62.7 398.6 61.2 399.0 59.8 399.3 58.6 399.6 57.7 399.8 M66.6 401.9 65.9 402.8 64.9 403.9 64.0 405.1 63.0 406.1 62.1 407.1 61.2 408.1 60.1 409.1 59.0 410.2 58.2 410.9 M59.5 404.9 58.1 405.1 56.4 405.3 54.9 405.5 53.3 405.7 51.6 406.0 50.2 406.3 M88.0 390.0 87.5 390.5 86.8 391.0 86.1 391.7 85.3 392.5 84.4 393.3 83.4 394.1 82.4 395.0 81.4 395.9 80.3 396.8 79.2 397.7 78.1 398.5 77.0 399.3 76.0 400.0 74.9 400.6 73.7 401.3 72.5 401.9 71.2 402.5 69.9 403.1 68.6 403.7 67.3 404.2 66.0 404.7 64.8 405.2 63.7 405.6 62.8 406.0 62.0 406.3 61.3 406.6 M74.9 400.6 74.4 401.4 73.6 402.5 72.8 403.6 72.1 404.5 71.4 405.5 70.7 406.4 69.8 407.5 68.9 408.5 68.3 409.2 M88.5 377.0 87.9 377.4 87.0 377.8 86.0 378.4 84.9 379.0 83.7 379.7 82.4 380.3 81.2 381.0 80.0 381.5 78.8 382.0 77.6 382.5 76.4 383.0 75.1 383.5 73.8 383.9 72.5 384.3 71.3 384.7 70.0 385.0 68.7 385.3 67.3 385.4 65.8 385.6 64.4 385.7 63.0 385.8 61.8 385.9 60.8 385.9 60.0 386.0 M78.8 382.0 77.6 382.0 75.8 382.0 74.1 382.0 72.5 382.1 70.9 382.1 69.3 382.2 67.5 382.3 65.8 382.4 64.5 382.4 M88.8 380.0 88.1 380.5 87.2 381.1 86.2 381.9 85.0 382.7 83.8 383.6 82.5 384.4 81.2 385.3 80.0 386.0 78.9 386.6 77.8 387.2 76.7 387.9 75.5 388.5 74.4 389.0 73.2 389.6 72.1 390.1 71.0 390.6 70.0 391.0 68.5 391.5 66.9 392.0 65.4 392.3 64.0 392.6 62.8 392.8 62.0 393.0 M75.5 388.5 74.7 389.5 73.6 390.8 72.6 392.0 71.5 393.0 70.2 394.2 69.2 395.0 M89.0 385.0 88.4 385.4 87.6 386.0 86.6 386.6 85.6 387.4 84.4 388.1 83.3 388.9 82.1 389.7 81.0 390.4 80.0 391.0 78.7 391.7 77.4 392.4 76.1 393.1 74.8 393.7 73.7 394.2 72.7 394.7 72.0 395.0 M87.0 367.0 86.3 367.2 85.4 367.5 84.3 367.9 83.1 368.3 81.8 368.7 80.4 369.2 78.9 369.6 77.5 370.0 76.1 370.4 74.7 370.8 73.4 371.1 72.2 371.4 70.9 371.7 69.6 371.9 68.3 372.1 67.0 372.3 65.8 372.4 64.6 372.5 63.4 372.5 62.3 372.5 61.1 372.4 60.0 372.2 58.7 371.9 57.4 371.3 56.0 370.7 54.7 370.0 53.4 369.3 52.2 368.6 51.2 367.9 50.3 367.4 49.6 367.0 M49.6 367.0 49.2 366.3 48.7 365.3 48.1 364.2 47.4 363.0 46.6 361.6 45.9 360.3 45.2 359.1 44.5 357.9 44.0 357.0 43.1 355.5 42.4 354.5 41.7 353.5 41.0 352.3 40.4 351.2 39.7 349.9 39.1 348.6 38.4 347.3 37.9 346.2 37.5 345.4 M43.0 355.0 42.2 354.8 41.0 354.5 39.7 354.1 38.3 353.7 37.0 353.5 35.5 353.3 33.9 353.3 32.5 353.2 31.5 353.2 M45.5 360.0 44.6 359.7 43.3 359.2 41.8 358.7 40.3 358.3 39.0 358.0 37.5 357.9 36.1 358.1 34.9 358.3 34.0 358.4 M47.5 364.0 46.7 363.6 45.5 363.0 44.2 362.4 43.0 362.0 41.5 362.1 40.2 362.4 39.2 362.7 M60.0 372.2 59.3 372.2 58.3 372.2 57.3 372.2 56.0 372.2 54.7 372.2 53.3 372.2 51.9 372.2 50.4 372.2 49.0 372.2 47.5 372.2 46.2 372.2 45.0 372.2 43.6 372.2 42.2 372.2 40.8 372.2 39.4 372.2 38.0 372.2 36.6 372.2 35.3 372.2 34.2 372.2 33.1 372.2 32.2 372.2 31.5 372.2 M47.5 372.2 46.5 371.9 44.9 371.5 43.4 371.1 42.0 370.7 40.6 370.3 39.2 370.0 37.7 369.6 36.1 369.3 35.0 369.1 M39.4 372.2 38.5 372.6 37.4 373.0 36.4 373.4 35.4 373.7 34.2 373.9 33.3 374.1 M54.8 374.0 54.2 374.5 53.5 375.2 52.6 376.0 51.6 376.9 50.5 377.8 49.2 378.5 47.9 379.2 46.9 379.6 45.8 379.9 44.7 380.2 43.5 380.5 42.3 380.8 41.0 381.0 39.7 381.2 38.4 381.4 37.1 381.6 35.8 381.8 34.6 381.9 33.2 382.1 31.8 382.2 30.3 382.3 28.8 382.3 27.4 382.4 26.0 382.4 24.7 382.5 23.6 382.5 22.6 382.6 21.9 382.6 M45.8 379.9 44.7 379.8 43.0 379.7 41.3 379.6 39.8 379.5 38.3 379.5 36.8 379.5 35.1 379.5 33.5 379.6 32.3 379.7 M33.2 382.1 32.1 382.6 30.8 383.2 29.5 383.7 28.3 384.2 26.8 384.7 25.7 385.1 M47.9 380.9 47.4 381.5 46.7 382.3 46.0 383.3 45.1 384.4 44.1 385.5 43.1 386.6 42.1 387.7 41.0 388.7 40.1 389.4 39.1 390.2 38.1 391.0 37.0 391.8 35.9 392.5 34.7 393.3 33.6 393.9 32.6 394.6 31.6 395.1 30.6 395.6 29.1 396.2 27.5 396.6 26.1 396.9 24.7 397.1 23.6 397.2 22.8 397.3 M40.1 389.4 39.6 390.2 39.0 391.3 38.3 392.5 37.5 393.7 36.9 394.7 36.2 395.8 35.6 396.8 34.9 397.9 34.1 399.0 33.3 400.2 32.6 401.2 32.1 401.9 M32.6 394.6 31.4 394.9 29.9 395.3 28.6 395.7 27.3 396.3 25.9 396.9 24.8 397.4 M36.0 392.5 35.5 393.3 34.7 394.4 33.8 395.7 32.9 396.9 32.0 398.0 30.9 399.1 29.8 400.2 28.7 401.1 28.0 401.7 M60.0 373.0 59.4 373.6 58.7 374.5 57.8 375.5 56.8 376.6 55.8 377.8 54.8 378.9 54.0 380.0 53.1 381.2 52.3 382.6 51.4 383.9 50.7 385.2 50.1 386.2 49.6 387.0 M87.0 367.0 86.5 366.4 85.8 365.7 84.9 364.8 84.0 363.8 83.0 362.8 82.0 361.8 81.0 360.8 80.0 360.0 78.9 359.2 77.8 358.4 76.7 357.6 75.5 356.9 74.4 356.3 73.2 355.6 72.0 355.0 70.7 354.4 69.3 353.8 67.9 353.3 66.5 352.7 65.2 352.3 64.2 351.9 63.4 351.6 M72.0 355.0 71.0 354.8 69.7 354.5 68.6 354.1 67.5 353.8 66.3 353.3 65.4 352.9 M87.0 367.0 86.3 366.6 85.3 366.1 84.2 365.5 82.9 364.8 81.6 364.2 80.3 363.5 79.0 363.0 77.8 362.6 76.5 362.1 75.2 361.8 73.8 361.4 72.5 361.1 71.2 360.8 70.0 360.5 68.5 360.2 67.0 360.0 65.4 359.8 64.0 359.6 62.9 359.5 62.0 359.4 M75.2 361.8 73.8 361.7 71.9 361.7 70.3 361.6 68.7 361.4 66.9 361.2 65.5 361.0 M87.0 367.0 86.2 366.9 85.1 366.7 83.7 366.4 82.3 366.2 80.8 365.9 79.3 365.7 78.0 365.5 76.6 365.3 75.2 365.1 73.9 364.9 72.6 364.8 71.3 364.6 70.0 364.5 68.7 364.4 67.2 364.3 65.8 364.2 64.6 364.1 63.5 364.0 62.7 364.0 M87.0 367.0 86.2 367.0 85.0 367.1 83.7 367.2 82.2 367.3 80.7 367.3 79.3 367.4 78.0 367.5 76.5 367.6 75.0 367.7 73.7 367.8 72.3 367.9 71.0 368.0 69.6 368.0 68.1 368.0 66.7 368.0 65.5 367.9 64.7 367.9 M87.0 367.0 86.4 367.5 85.5 368.1 84.5 368.8 83.4 369.7 82.3 370.5 81.1 371.3 80.0 372.0 78.9 372.6 77.7 373.2 76.5 373.8 75.3 374.4 74.2 374.9 73.0 375.5 72.0 376.0 70.6 376.8 69.2 377.6 67.9 378.4 66.8 379.0 66.0 379.5" stroke="#111" stroke-width="1.1" fill="none" stroke-linecap="round" stroke-linejoin="round"/>
<path d="M57.9 314.1 56.3 313.6 M57.0 313.1 57.0 310.1 M55.4 311.0 53.5 310.4 M53.9 309.1 53.8 306.0 M51.5 306.2 49.2 305.2 M49.6 304.0 49.5 302.3 M47.9 302.2 45.5 301.7 M46.4 300.5 46.2 298.6 M44.0 298.0 41.5 297.6 M42.1 296.0 41.9 293.7 M40.1 294.0 38.3 293.6 M38.2 292.2 37.6 290.0 M46.9 303.7 44.7 303.3 M46.0 303.0 45.6 301.4 M42.5 300.6 39.6 300.8 M39.2 298.6 38.2 296.4 M35.7 296.9 33.6 297.7 M34.4 296.3 33.2 294.1 M30.6 295.0 28.5 295.5 M40.5 297.5 40.5 295.4 M39.3 296.3 37.7 295.9 M52.0 312.5 51.3 310.5 M49.8 311.3 47.3 311.2 M46.5 309.5 45.4 307.8 M43.1 307.9 41.1 308.4 M39.7 306.5 38.6 304.1 M36.9 305.6 34.1 306.9 M34.2 304.9 32.8 303.2 M43.0 310.4 41.1 311.6 M41.7 310.1 40.1 308.4 M37.5 309.0 36.0 309.5 M54.0 318.5 53.0 317.1 M50.6 316.8 48.9 317.4 M48.2 315.7 47.4 314.1 M45.8 314.5 42.8 315.1 M42.2 312.9 41.0 311.2 M38.7 311.5 36.0 312.2 M37.3 311.0 35.8 308.3 M33.2 309.7 30.7 310.9 M29.7 308.7 28.6 307.5 M42.3 316.5 41.0 315.6 M39.6 316.0 37.1 317.3 M36.5 315.3 35.5 313.7 M58.0 325.0 56.5 322.7 M55.8 324.4 53.9 325.3 M52.2 323.4 50.8 321.7 M48.6 322.4 46.9 322.9 M45.1 321.7 44.0 320.3 M41.0 321.2 39.3 322.4 M38.0 321.1 35.2 319.7 M35.2 321.1 33.6 322.7 M50.6 321.0 48.2 320.9 M47.9 319.6 47.2 317.5 M53.6 326.2 52.3 327.2 M50.7 326.2 48.2 325.0 M48.0 326.2 46.1 327.8 M45.3 326.2 43.1 324.5 M41.1 326.1 39.4 327.1 M38.5 326.1 36.3 324.4 M42.5 327.4 40.9 329.6 M39.4 328.1 36.9 326.9 M59.3 329.0 56.9 327.9 M56.5 329.3 55.2 330.4 M52.7 329.5 51.0 328.2 M49.8 329.3 47.4 330.7 M45.6 328.9 43.5 327.3 M43.4 296.1 43.3 294.2 M41.2 292.6 39.2 291.2 M40.6 291.3 41.0 288.8 M72.6 316.3 71.5 315.5 M72.3 314.0 73.2 312.6 M71.8 310.9 69.9 309.5 M71.4 308.2 72.5 306.5 M71.0 306.0 69.7 304.2 M70.8 304.2 72.0 302.5 M80.5 331.2 79.6 329.8 M80.6 326.0 82.3 323.7 M80.7 324.7 78.9 322.4 M80.8 322.2 82.4 319.8 M81.2 318.3 80.2 316.3 M81.3 316.6 83.6 314.7 M78.5 321.2 79.4 318.8 M77.9 318.6 76.8 317.4 M77.2 327.2 76.0 325.9 M76.8 324.6 77.7 322.5 M76.6 322.0 75.3 319.9 M76.4 319.4 77.2 318.0 M76.3 316.0 75.3 314.4 M76.4 311.2 77.9 309.8 M73.7 345.0 72.4 343.3 M71.1 344.0 69.3 344.6 M68.5 343.3 67.5 341.8 M66.0 342.7 63.5 343.5 M62.2 341.4 61.4 339.8 M59.6 340.4 56.9 341.1 M55.9 338.7 54.5 336.6 M63.4 343.5 61.7 344.9 M59.4 342.9 58.3 341.6 M60.7 339.5 59.8 337.6 M74.8 348.5 73.2 348.9 M72.3 347.6 70.9 346.2 M69.8 346.8 67.0 348.2 M67.2 346.3 65.5 344.3 M63.1 345.5 61.6 346.4 M61.6 345.4 60.2 343.9 M58.8 345.2 57.0 345.9 M65.0 343.8 63.4 343.8 M86.6 348.4 88.2 347.0 M86.9 344.1 86.3 342.5 M87.1 341.2 88.6 339.2 M87.3 338.4 86.5 336.5 M87.6 334.4 88.8 333.0 M87.9 331.5 86.6 329.2 M88.0 343.6 87.4 341.9 M89.2 340.3 91.2 339.3 M87.9 346.9 87.3 345.4 M88.5 343.0 90.4 340.6 M88.9 340.2 87.4 337.8 M89.3 337.7 91.0 336.2 M89.7 335.3 89.1 333.7 M90.2 331.6 91.4 330.4 M90.5 328.8 89.0 326.9 M90.8 326.3 92.0 324.7 M88.2 338.0 89.1 336.2 M87.7 334.5 86.2 332.9 M89.7 344.2 91.1 342.8 M90.6 340.5 89.5 338.6 M91.4 337.0 92.9 335.5 M91.9 334.6 91.0 333.2 M92.7 331.2 94.3 330.1 M93.3 328.8 92.5 326.6 M94.3 324.7 95.7 323.9 M95.1 322.0 94.0 320.0 M95.7 319.6 98.0 317.6 M92.9 324.3 94.1 322.2 M94.7 339.6 94.3 337.6 M95.8 337.5 98.3 336.5 M97.0 335.4 96.7 332.9 M98.2 333.3 99.7 332.7 M99.5 331.0 98.8 328.5 M101.3 327.7 103.0 326.7 M102.5 325.4 102.4 323.9 M104.4 321.9 106.1 321.0 M106.3 318.4 106.2 316.8 M107.5 316.1 109.2 315.5 M109.2 313.2 109.0 311.3 M110.8 310.6 112.7 310.1 M113.2 307.2 113.4 304.2 M114.5 305.3 116.6 304.4 M96.8 331.8 98.7 330.3 M97.6 329.3 97.2 327.6 M98.7 325.4 100.3 324.2 M99.5 322.7 98.3 320.2 M100.4 319.8 101.4 318.7 M108.4 317.1 110.5 316.5 M110.9 314.4 110.9 312.3 M112.5 312.4 114.4 311.9 M114.1 310.2 113.9 308.7 M96.7 333.5 99.2 331.8 M98.0 331.0 97.6 329.0 M98.7 329.9 101.5 329.0 M101.1 326.5 101.4 324.6 M103.7 323.1 105.8 322.9 M105.8 320.6 105.9 317.6 M96.3 345.1 96.2 343.0 M98.4 342.2 100.0 341.9 M100.6 339.4 100.8 337.8 M102.1 337.5 105.1 336.5 M104.7 334.4 105.0 332.7 M107.2 331.5 109.4 331.1 M109.1 329.3 109.3 326.7 M111.1 327.1 112.8 326.8 M113.1 324.9 113.3 322.8 M114.9 322.9 116.8 322.3 M117.8 319.7 118.0 317.7 M104.3 338.5 104.8 335.8 M106.5 336.7 108.1 336.4 M108.8 334.8 109.0 332.9 M106.2 328.2 107.3 327.3 M106.6 326.7 105.5 324.3 M107.7 323.6 109.3 322.4 M97.8 351.5 99.4 351.4 M99.7 350.1 100.4 347.7 M101.7 348.7 103.9 349.0 M104.0 347.3 104.4 345.3 M106.4 345.8 109.3 345.9 M109.7 343.8 111.0 341.4 M110.8 343.1 113.0 343.6 M113.3 341.7 113.9 339.5 M115.8 340.2 118.4 340.5 M118.3 338.8 119.1 336.8 M119.5 338.1 121.9 338.2 M121.8 336.8 122.9 334.3 M124.4 335.4 127.4 335.3 M104.0 344.1 104.1 341.8 M105.7 342.2 107.1 341.9 M107.3 340.4 107.6 338.8 M110.2 337.7 112.8 337.1 M113.1 335.1 113.4 333.3 M119.3 340.3 120.6 340.7 M122.7 339.6 124.2 337.9 M105.9 355.2 107.6 355.3 M107.1 354.6 108.3 352.6 M110.8 353.0 113.5 353.1 M113.2 351.9 114.6 350.1 M116.6 350.4 119.5 350.7 M120.3 348.9 121.1 347.2 M123.7 347.6 126.5 348.8 M127.1 346.3 127.8 344.8 M130.5 345.0 133.4 345.4 M133.0 344.1 134.5 342.3 M135.6 343.1 137.9 343.6 M138.3 342.2 139.5 340.8 M140.9 341.3 142.6 342.1 M143.1 340.5 144.6 338.4 M116.7 354.9 119.2 356.2 M120.3 354.6 121.7 353.2 M123.9 354.2 126.3 355.1 M126.6 353.9 127.9 352.1 M129.3 353.4 130.7 353.8 M120.7 345.5 120.9 343.7 M123.3 342.6 125.0 342.2 M125.0 340.8 125.1 339.1 M128.1 337.8 130.2 337.7 M134.4 345.8 136.1 347.1 M137.0 345.6 138.3 344.8 M100.2 360.7 101.9 359.1 M102.5 360.0 105.0 360.6 M105.0 359.3 106.0 357.8 M107.6 358.6 110.5 359.3 M111.5 357.7 113.7 355.8 M114.0 357.0 116.0 358.0 M116.5 356.4 117.6 355.2 M120.5 355.4 123.1 356.6 M123.2 354.7 124.7 353.0 M125.8 354.1 128.2 354.9 M128.0 353.6 128.9 352.3 M113.5 359.9 115.2 361.3 M116.0 360.0 117.2 358.9 M119.7 360.1 121.5 361.3 M121.1 360.1 122.5 359.4 M121.7 354.3 123.0 352.4 M125.9 352.3 128.4 353.2 M116.0 359.3 117.8 360.1 M118.8 359.1 120.7 357.0 M122.7 358.7 124.4 359.8 M124.2 358.5 125.4 357.1 M127.1 358.1 128.9 358.8 M131.1 357.6 132.7 356.2 M134.3 357.1 136.4 358.5 M125.1 357.0 126.1 355.5 M127.8 356.2 130.1 356.9 M100.2 366.0 102.0 364.3 M103.8 366.2 105.2 367.3 M107.6 366.4 109.2 365.7 M111.6 366.8 113.9 368.9 M113.0 367.0 114.5 366.2 M116.8 367.5 118.3 369.1 M119.7 367.9 121.7 367.0 M122.6 368.3 124.1 370.4 M125.4 368.7 127.7 367.4 M126.7 368.9 128.3 370.6 M111.1 364.8 112.3 363.5 M114.8 364.1 117.0 365.2 M118.9 363.3 120.2 361.9 M116.7 369.4 119.1 369.1 M119.2 370.9 119.8 372.3 M121.9 372.4 123.9 372.4 M108.5 371.2 109.3 372.7 M110.9 372.4 113.8 371.7 M114.4 374.4 115.2 376.4 M117.0 375.8 119.7 375.2 M120.5 377.9 121.3 380.4 M116.8 374.6 117.6 375.7 M119.2 375.5 121.7 374.7 M98.6 384.3 99.7 385.7 M101.3 384.7 103.9 383.1 M104.9 385.3 106.3 387.1 M107.4 385.7 110.1 384.8 M110.0 386.0 111.5 387.7 M112.7 386.3 115.3 384.7 M115.6 386.5 117.0 387.9 M118.4 386.8 121.1 385.6 M111.7 387.8 112.7 389.1 M107.7 395.3 109.9 394.3 M110.9 395.4 113.1 396.8 M114.7 395.2 116.3 393.9 M117.5 395.0 119.1 396.3 M120.2 394.7 121.7 393.5 M121.6 394.6 124.1 395.6 M124.2 394.4 126.0 393.0 M128.4 394.0 130.2 395.2 M131.4 393.8 133.8 392.2 M135.6 393.4 138.2 394.5 M137.8 393.2 140.4 391.6 M114.2 400.0 116.5 399.6 M116.3 401.2 116.9 403.2 M118.7 402.5 120.3 402.3 M128.6 393.0 130.1 393.6 M131.8 392.4 133.6 390.5 M122.0 398.0 123.9 400.1 M125.6 398.4 126.8 397.3 M129.1 398.6 131.3 399.8 M132.8 398.9 135.5 397.4 M135.2 399.2 136.2 400.4 M139.2 399.9 141.9 398.8 M141.9 400.4 143.8 402.4 M144.4 400.9 146.6 399.9 M134.3 401.2 136.2 400.8 M137.2 402.0 138.7 404.0 M141.5 398.9 143.4 397.0 M129.0 403.6 131.6 403.7 M132.0 405.6 132.8 407.2 M135.0 407.7 137.5 407.3 M138.0 410.0 138.5 412.4 M140.0 411.6 142.1 411.8 M143.4 414.4 143.5 416.0 M144.5 415.3 147.2 415.9 M148.0 418.3 148.4 419.9 M139.7 408.7 141.6 407.9 M143.2 409.7 144.3 412.1 M144.4 410.2 146.2 409.7 M143.8 416.4 143.9 418.8 M130.6 406.9 132.2 407.2 M132.5 409.1 132.4 410.8 M134.9 412.2 137.6 413.3 M136.6 414.5 136.7 417.0 M138.0 416.6 140.5 417.9 M106.5 404.5 107.0 407.2 M108.3 406.3 110.4 406.4 M110.1 408.1 110.4 410.9 M113.6 411.6 115.2 411.8 M116.0 414.1 116.3 417.2 M117.8 415.9 120.5 416.5 M119.8 418.0 120.0 420.1 M121.4 419.6 124.2 419.6 M123.3 421.5 124.2 424.3 M125.4 423.5 128.2 423.5 M128.4 426.4 128.8 428.8 M130.1 428.2 132.9 428.7 M109.6 409.7 109.6 411.3 M111.8 412.7 113.9 413.5 M114.2 415.6 114.4 417.7 M116.1 417.7 117.6 418.2 M120.2 415.1 122.2 414.8 M122.6 416.1 123.7 417.5 M124.9 417.4 127.5 417.4 M121.5 422.5 122.7 423.3 M123.0 425.2 123.1 426.7 M124.8 428.2 127.4 429.2 M102.3 403.9 101.8 406.5 M103.8 406.1 105.3 406.8 M106.3 409.4 106.7 412.3 M112.3 412.0 114.0 412.9 M114.6 415.3 114.2 418.1 M116.1 417.5 118.6 418.2 M102.1 417.6 104.7 418.3 M103.4 419.9 103.0 421.6 M104.6 422.1 106.5 423.3 M106.4 425.1 106.5 427.7 M108.2 428.1 109.6 428.9 M109.4 430.2 108.5 433.0 M110.5 432.7 111.9 433.6 M111.4 435.0 110.6 437.2 M112.4 438.7 114.4 440.3 M113.1 441.5 112.6 444.1 M113.8 444.4 115.5 445.4 M114.1 445.8 113.2 448.5 M114.8 448.5 116.3 449.8 M115.3 450.9 114.4 452.3 M111.0 426.6 112.5 426.6 M113.7 429.3 114.4 431.6 M116.6 432.4 118.9 433.3 M117.5 433.4 118.2 435.8 M111.8 441.6 112.8 442.8 M112.4 445.5 111.5 447.1 M112.8 448.3 114.7 450.0 M106.7 423.2 107.0 426.2 M109.0 425.1 111.5 425.6 M110.0 426.0 110.8 428.6 M113.5 428.8 115.9 429.0 M114.7 429.6 115.2 432.0 M102.4 423.5 104.2 425.4 M103.3 427.5 102.5 430.0 M103.9 430.5 105.8 432.8 M104.6 434.2 103.6 436.4 M96.1 420.5 97.2 422.0 M96.1 423.0 94.9 424.1 M96.0 427.1 97.4 429.5 M95.9 429.6 94.7 431.5 M95.8 432.4 96.8 434.2 M95.8 435.4 94.6 436.6 M95.6 439.6 96.7 441.1 M92.9 430.4 93.3 433.1 M91.8 433.1 90.4 434.2 M97.5 432.0 95.9 434.4 M97.7 434.6 99.9 436.7 M97.7 437.4 96.4 439.0 M90.4 420.2 91.2 422.3 M89.9 422.9 88.8 424.1 M89.0 427.9 89.8 430.7 M88.2 431.8 86.3 433.4 M88.0 433.1 88.4 434.8 M87.4 435.7 86.3 437.1 M86.9 438.4 87.7 441.3 M86.2 442.0 84.7 444.0 M85.8 444.7 87.1 447.3 M85.2 448.9 83.6 451.0 M84.9 451.5 86.2 453.8 M84.7 453.8 83.2 455.4 M91.3 433.4 90.6 435.2 M91.5 436.1 92.9 437.6 M91.6 438.8 90.4 441.0 M91.7 441.8 93.1 443.3 M85.2 437.1 83.7 437.8 M84.1 439.8 84.6 442.4 M83.1 442.8 80.7 444.1 M87.1 444.6 85.8 446.4 M87.5 448.3 89.3 449.8 M87.9 411.4 86.1 412.6 M86.0 415.0 86.1 417.8 M84.6 417.3 82.9 418.0 M83.0 419.7 83.1 422.1 M81.4 422.0 78.7 423.1 M87.3 417.8 85.7 420.0 M87.2 421.4 88.3 422.9 M82.9 409.8 82.9 412.2 M80.8 412.0 78.4 412.4 M78.3 414.3 78.1 416.6 M76.3 416.0 74.2 415.8 M73.1 418.6 72.3 420.5 M70.2 420.8 68.5 420.8 M67.6 422.5 66.9 425.5 M65.1 424.1 63.1 424.1 M80.2 417.0 80.6 418.4 M79.2 419.4 76.8 420.6 M77.8 421.9 77.7 423.3 M71.3 417.0 69.6 418.8 M68.4 417.9 66.3 417.5 M65.1 419.1 64.4 420.4 M68.4 424.9 68.4 427.0 M67.3 426.5 65.2 426.9 M75.5 397.8 74.5 399.3 M73.6 398.7 70.7 398.6 M70.3 400.2 68.6 402.7 M69.0 400.8 66.5 400.1 M65.3 402.5 63.9 404.8 M62.8 403.6 61.0 403.4 M60.6 404.5 59.6 406.5 M58.1 405.4 56.2 404.6 M53.7 406.7 51.8 409.0 M51.0 407.4 49.0 406.7 M48.7 408.0 46.6 409.8 M69.2 397.7 67.1 396.6 M65.3 398.2 63.2 399.8 M62.7 398.6 61.2 398.0 M59.8 399.3 58.6 401.2 M63.0 406.1 60.8 407.0 M62.1 407.1 62.0 409.5 M60.1 409.1 57.5 409.8 M53.3 405.7 51.5 405.0 M79.2 397.7 79.0 399.5 M76.0 400.0 73.1 399.7 M72.5 401.9 71.0 404.6 M68.6 403.7 66.5 403.5 M66.0 404.7 64.4 406.8 M62.8 406.0 60.1 405.4 M72.1 404.5 70.0 405.1 M70.7 406.4 70.8 408.8 M78.8 382.0 77.9 384.4 M76.4 383.0 74.4 382.3 M73.8 383.9 72.3 386.6 M71.3 384.7 69.3 384.0 M68.7 385.3 67.0 386.9 M64.4 385.7 62.4 384.4 M61.8 385.9 59.7 387.8 M70.9 382.1 69.5 383.2 M69.3 382.2 67.9 381.3 M65.8 382.4 64.1 384.0 M80.0 386.0 77.4 386.1 M77.8 387.2 76.9 389.6 M75.5 388.5 73.3 388.4 M72.1 390.1 70.3 392.6 M68.5 391.5 65.9 391.0 M66.9 392.0 64.7 393.9 M64.0 392.6 61.1 391.5 M72.6 392.0 70.4 392.1 M70.2 394.2 69.8 395.8 M82.1 389.7 79.1 389.4 M80.0 391.0 79.2 392.6 M76.1 393.1 74.1 392.5 M73.7 394.2 72.5 397.0 M65.8 372.4 63.6 371.3 M62.3 372.5 59.7 373.8 M60.0 372.2 58.7 371.2 M56.0 370.7 54.0 371.5 M54.7 370.0 53.5 367.7 M51.2 367.9 49.5 368.1 M45.9 360.3 45.8 358.7 M45.2 359.1 43.7 358.5 M43.1 355.5 43.5 353.3 M41.0 352.3 39.0 351.4 M39.7 349.9 40.3 347.1 M38.4 347.3 36.5 346.1 M39.7 354.1 37.5 355.0 M37.0 353.5 35.8 352.1 M33.9 353.3 31.3 354.4 M41.8 358.7 40.8 356.7 M39.0 358.0 36.2 359.0 M36.1 358.1 34.2 356.8 M45.5 363.0 44.5 361.3 M43.0 362.0 40.0 362.7 M50.4 372.2 49.0 371.0 M47.5 372.2 45.6 373.3 M43.6 372.2 41.4 370.3 M39.4 372.2 37.2 374.0 M36.6 372.2 34.3 370.5 M33.1 372.2 31.4 373.9 M42.0 370.7 40.7 369.3 M37.7 369.6 35.9 370.2 M36.4 373.4 34.2 372.4 M34.2 373.9 32.6 375.3 M44.7 380.2 42.3 379.7 M42.3 380.8 40.8 382.9 M39.7 381.2 37.1 380.0 M37.1 381.6 35.7 382.6 M34.6 381.9 32.8 380.9 M31.8 382.2 29.3 383.8 M28.8 382.3 26.5 380.4 M26.0 382.4 24.0 383.6 M41.3 379.6 39.2 378.0 M38.3 379.5 36.9 380.4 M35.1 379.5 33.7 378.8 M30.8 383.2 28.6 382.5 M26.8 384.7 25.6 386.2 M41.0 388.7 40.9 390.3 M38.1 391.0 35.3 390.7 M35.9 392.5 35.1 394.4 M32.6 394.6 30.0 393.9 M29.1 396.2 28.0 398.3 M26.1 396.9 24.1 395.9 M36.9 394.7 36.8 397.4 M35.6 396.8 33.3 397.8 M33.3 400.2 33.1 402.6 M28.6 395.7 26.9 394.9 M25.9 396.9 25.3 398.3 M33.8 395.7 31.2 396.5 M32.0 398.0 31.6 399.6 M28.7 401.1 26.4 401.4 M56.8 376.6 56.7 378.3 M54.0 380.0 52.3 380.6 M52.3 382.6 52.7 385.1 M50.7 385.2 48.2 386.4 M78.9 359.2 77.8 356.5 M77.8 358.4 75.0 358.5 M75.5 356.9 74.8 354.1 M72.0 355.0 70.0 355.4 M69.3 353.8 68.6 352.2 M66.5 352.7 63.8 353.5 M64.2 351.9 62.6 349.8 M69.7 354.5 68.4 352.8 M66.3 353.3 64.2 353.7 M77.8 362.6 75.1 363.5 M75.2 361.8 73.3 359.8 M72.5 361.1 70.9 361.5 M68.5 360.2 66.2 358.3 M67.0 360.0 64.4 361.0 M64.0 359.6 61.7 358.1 M68.7 361.4 67.5 362.2 M78.0 365.5 76.0 364.1 M73.9 364.9 71.9 366.5 M71.3 364.6 69.5 363.3 M68.7 364.4 66.6 365.9 M64.6 364.1 62.5 362.8 M78.0 367.5 76.7 366.3 M75.0 367.7 72.5 369.2 M72.3 367.9 69.8 366.2 M69.6 368.0 67.5 370.0 M68.1 368.0 66.5 366.5 M65.5 367.9 63.6 369.7 M78.9 372.6 78.4 374.4 M76.5 373.8 73.9 373.7 M74.2 374.9 73.2 377.4 M70.6 376.8 68.7 376.9 M67.9 378.4 66.6 380.4 M87 367 91.1 362.1 M87 367 91.9 363.3 M87 367 96.1 362.9 M87 367 94.1 365.6 M87 367 96.5 367.3 M87 367 93.3 368.7 M87 367 94.0 370.7 M87 367 91.9 371.3 M87 367 91.5 373.2 M87 367 89.6 373.2 M87 367 88.5 375.6 M87 367 86.7 373.6 M87 367 79.2 371.5 M87 367 79.2 368.9 M87 367 80.6 366.8 M87 367 79.9 364.7 M87 367 80.4 362.5" stroke="#111" stroke-width="0.9" fill="none" stroke-linecap="round" stroke-linejoin="round"/>
<path d="M56.4 310.1a0.6 0.6 0 1 0 1.2 0a0.6 0.6 0 1 0 -1.2 0 M48.6 305.2a0.6 0.6 0 1 0 1.2 0a0.6 0.6 0 1 0 -1.2 0 M48.9 302.3a0.6 0.6 0 1 0 1.2 0a0.6 0.6 0 1 0 -1.2 0 M45.6 298.6a0.6 0.6 0 1 0 1.2 0a0.6 0.6 0 1 0 -1.2 0 M40.9 297.6a0.6 0.6 0 1 0 1.2 0a0.6 0.6 0 1 0 -1.2 0 M37.0 290.0a0.6 0.6 0 1 0 1.2 0a0.6 0.6 0 1 0 -1.2 0 M35.5 290.3a0.7 0.7 0 1 0 1.4 0a0.7 0.7 0 1 0 -1.4 0 M39.0 300.8a0.6 0.6 0 1 0 1.2 0a0.6 0.6 0 1 0 -1.2 0 M37.6 296.4a0.6 0.6 0 1 0 1.2 0a0.6 0.6 0 1 0 -1.2 0 M28.2 294.4a0.7 0.7 0 1 0 1.4 0a0.7 0.7 0 1 0 -1.4 0 M39.9 295.4a0.6 0.6 0 1 0 1.2 0a0.6 0.6 0 1 0 -1.2 0 M37.1 295.9a0.6 0.6 0 1 0 1.2 0a0.6 0.6 0 1 0 -1.2 0 M36.3 293.9a0.7 0.7 0 1 0 1.4 0a0.7 0.7 0 1 0 -1.4 0 M50.7 310.5a0.6 0.6 0 1 0 1.2 0a0.6 0.6 0 1 0 -1.2 0 M46.7 311.2a0.6 0.6 0 1 0 1.2 0a0.6 0.6 0 1 0 -1.2 0 M44.8 307.8a0.6 0.6 0 1 0 1.2 0a0.6 0.6 0 1 0 -1.2 0 M40.5 308.4a0.6 0.6 0 1 0 1.2 0a0.6 0.6 0 1 0 -1.2 0 M32.2 303.2a0.6 0.6 0 1 0 1.2 0a0.6 0.6 0 1 0 -1.2 0 M30.7 304.1a0.7 0.7 0 1 0 1.4 0a0.7 0.7 0 1 0 -1.4 0 M40.5 311.6a0.6 0.6 0 1 0 1.2 0a0.6 0.6 0 1 0 -1.2 0 M35.4 309.5a0.6 0.6 0 1 0 1.2 0a0.6 0.6 0 1 0 -1.2 0 M34.5 308.4a0.7 0.7 0 1 0 1.4 0a0.7 0.7 0 1 0 -1.4 0 M52.4 317.1a0.6 0.6 0 1 0 1.2 0a0.6 0.6 0 1 0 -1.2 0 M48.3 317.4a0.6 0.6 0 1 0 1.2 0a0.6 0.6 0 1 0 -1.2 0 M40.4 311.2a0.6 0.6 0 1 0 1.2 0a0.6 0.6 0 1 0 -1.2 0 M35.4 312.2a0.6 0.6 0 1 0 1.2 0a0.6 0.6 0 1 0 -1.2 0 M30.1 310.9a0.6 0.6 0 1 0 1.2 0a0.6 0.6 0 1 0 -1.2 0 M28.0 307.5a0.6 0.6 0 1 0 1.2 0a0.6 0.6 0 1 0 -1.2 0 M27.4 308.2a0.7 0.7 0 1 0 1.4 0a0.7 0.7 0 1 0 -1.4 0 M40.4 315.6a0.6 0.6 0 1 0 1.2 0a0.6 0.6 0 1 0 -1.2 0 M33.5 314.7a0.7 0.7 0 1 0 1.4 0a0.7 0.7 0 1 0 -1.4 0 M55.9 322.7a0.6 0.6 0 1 0 1.2 0a0.6 0.6 0 1 0 -1.2 0 M46.3 322.9a0.6 0.6 0 1 0 1.2 0a0.6 0.6 0 1 0 -1.2 0 M31.5 321.1a0.7 0.7 0 1 0 1.4 0a0.7 0.7 0 1 0 -1.4 0 M43.1 317.4a0.7 0.7 0 1 0 1.4 0a0.7 0.7 0 1 0 -1.4 0 M51.7 327.2a0.6 0.6 0 1 0 1.2 0a0.6 0.6 0 1 0 -1.2 0 M47.6 325.0a0.6 0.6 0 1 0 1.2 0a0.6 0.6 0 1 0 -1.2 0 M45.5 327.8a0.6 0.6 0 1 0 1.2 0a0.6 0.6 0 1 0 -1.2 0 M42.5 324.5a0.6 0.6 0 1 0 1.2 0a0.6 0.6 0 1 0 -1.2 0 M33.9 326.0a0.7 0.7 0 1 0 1.4 0a0.7 0.7 0 1 0 -1.4 0 M37.4 328.3a0.7 0.7 0 1 0 1.4 0a0.7 0.7 0 1 0 -1.4 0 M56.3 327.9a0.6 0.6 0 1 0 1.2 0a0.6 0.6 0 1 0 -1.2 0 M50.4 328.2a0.6 0.6 0 1 0 1.2 0a0.6 0.6 0 1 0 -1.2 0 M46.8 330.7a0.6 0.6 0 1 0 1.2 0a0.6 0.6 0 1 0 -1.2 0 M42.9 327.3a0.6 0.6 0 1 0 1.2 0a0.6 0.6 0 1 0 -1.2 0 M42.0 328.5a0.7 0.7 0 1 0 1.4 0a0.7 0.7 0 1 0 -1.4 0 M42.7 294.2a0.6 0.6 0 1 0 1.2 0a0.6 0.6 0 1 0 -1.2 0 M38.6 291.2a0.6 0.6 0 1 0 1.2 0a0.6 0.6 0 1 0 -1.2 0 M38.8 288.5a0.7 0.7 0 1 0 1.4 0a0.7 0.7 0 1 0 -1.4 0 M70.9 315.5a0.6 0.6 0 1 0 1.2 0a0.6 0.6 0 1 0 -1.2 0 M72.6 312.6a0.6 0.6 0 1 0 1.2 0a0.6 0.6 0 1 0 -1.2 0 M69.3 309.5a0.6 0.6 0 1 0 1.2 0a0.6 0.6 0 1 0 -1.2 0 M69.1 304.2a0.6 0.6 0 1 0 1.2 0a0.6 0.6 0 1 0 -1.2 0 M69.8 302.0a0.7 0.7 0 1 0 1.4 0a0.7 0.7 0 1 0 -1.4 0 M79.0 329.8a0.6 0.6 0 1 0 1.2 0a0.6 0.6 0 1 0 -1.2 0 M83.0 314.7a0.6 0.6 0 1 0 1.2 0a0.6 0.6 0 1 0 -1.2 0 M81.1 313.0a0.7 0.7 0 1 0 1.4 0a0.7 0.7 0 1 0 -1.4 0 M76.2 317.4a0.6 0.6 0 1 0 1.2 0a0.6 0.6 0 1 0 -1.2 0 M76.7 316.3a0.7 0.7 0 1 0 1.4 0a0.7 0.7 0 1 0 -1.4 0 M75.4 325.9a0.6 0.6 0 1 0 1.2 0a0.6 0.6 0 1 0 -1.2 0 M77.1 322.5a0.6 0.6 0 1 0 1.2 0a0.6 0.6 0 1 0 -1.2 0 M76.6 318.0a0.6 0.6 0 1 0 1.2 0a0.6 0.6 0 1 0 -1.2 0 M74.7 314.4a0.6 0.6 0 1 0 1.2 0a0.6 0.6 0 1 0 -1.2 0 M77.3 309.8a0.6 0.6 0 1 0 1.2 0a0.6 0.6 0 1 0 -1.2 0 M75.8 309.0a0.7 0.7 0 1 0 1.4 0a0.7 0.7 0 1 0 -1.4 0 M71.8 343.3a0.6 0.6 0 1 0 1.2 0a0.6 0.6 0 1 0 -1.2 0 M62.9 343.5a0.6 0.6 0 1 0 1.2 0a0.6 0.6 0 1 0 -1.2 0 M53.9 336.6a0.6 0.6 0 1 0 1.2 0a0.6 0.6 0 1 0 -1.2 0 M53.6 338.0a0.7 0.7 0 1 0 1.4 0a0.7 0.7 0 1 0 -1.4 0 M57.7 341.6a0.6 0.6 0 1 0 1.2 0a0.6 0.6 0 1 0 -1.2 0 M57.7 342.7a0.7 0.7 0 1 0 1.4 0a0.7 0.7 0 1 0 -1.4 0 M59.2 337.6a0.6 0.6 0 1 0 1.2 0a0.6 0.6 0 1 0 -1.2 0 M57.9 338.3a0.7 0.7 0 1 0 1.4 0a0.7 0.7 0 1 0 -1.4 0 M66.4 348.2a0.6 0.6 0 1 0 1.2 0a0.6 0.6 0 1 0 -1.2 0 M61.0 346.4a0.6 0.6 0 1 0 1.2 0a0.6 0.6 0 1 0 -1.2 0 M56.2 345.0a0.7 0.7 0 1 0 1.4 0a0.7 0.7 0 1 0 -1.4 0 M62.8 343.8a0.6 0.6 0 1 0 1.2 0a0.6 0.6 0 1 0 -1.2 0 M61.8 342.4a0.7 0.7 0 1 0 1.4 0a0.7 0.7 0 1 0 -1.4 0 M85.9 336.5a0.6 0.6 0 1 0 1.2 0a0.6 0.6 0 1 0 -1.2 0 M86.0 329.2a0.6 0.6 0 1 0 1.2 0a0.6 0.6 0 1 0 -1.2 0 M87.3 330.6a0.7 0.7 0 1 0 1.4 0a0.7 0.7 0 1 0 -1.4 0 M86.8 341.9a0.6 0.6 0 1 0 1.2 0a0.6 0.6 0 1 0 -1.2 0 M90.6 339.3a0.6 0.6 0 1 0 1.2 0a0.6 0.6 0 1 0 -1.2 0 M89.3 336.9a0.7 0.7 0 1 0 1.4 0a0.7 0.7 0 1 0 -1.4 0 M89.8 340.6a0.6 0.6 0 1 0 1.2 0a0.6 0.6 0 1 0 -1.2 0 M86.8 337.8a0.6 0.6 0 1 0 1.2 0a0.6 0.6 0 1 0 -1.2 0 M88.4 326.9a0.6 0.6 0 1 0 1.2 0a0.6 0.6 0 1 0 -1.2 0 M90.3 324.5a0.7 0.7 0 1 0 1.4 0a0.7 0.7 0 1 0 -1.4 0 M88.5 336.2a0.6 0.6 0 1 0 1.2 0a0.6 0.6 0 1 0 -1.2 0 M85.6 332.9a0.6 0.6 0 1 0 1.2 0a0.6 0.6 0 1 0 -1.2 0 M86.8 330.9a0.7 0.7 0 1 0 1.4 0a0.7 0.7 0 1 0 -1.4 0 M88.9 338.6a0.6 0.6 0 1 0 1.2 0a0.6 0.6 0 1 0 -1.2 0 M92.3 335.5a0.6 0.6 0 1 0 1.2 0a0.6 0.6 0 1 0 -1.2 0 M93.7 330.1a0.6 0.6 0 1 0 1.2 0a0.6 0.6 0 1 0 -1.2 0 M95.1 323.9a0.6 0.6 0 1 0 1.2 0a0.6 0.6 0 1 0 -1.2 0 M95.7 317.0a0.7 0.7 0 1 0 1.4 0a0.7 0.7 0 1 0 -1.4 0 M93.5 322.2a0.6 0.6 0 1 0 1.2 0a0.6 0.6 0 1 0 -1.2 0 M92.5 321.5a0.7 0.7 0 1 0 1.4 0a0.7 0.7 0 1 0 -1.4 0 M93.7 337.6a0.6 0.6 0 1 0 1.2 0a0.6 0.6 0 1 0 -1.2 0 M97.7 336.5a0.6 0.6 0 1 0 1.2 0a0.6 0.6 0 1 0 -1.2 0 M96.1 332.9a0.6 0.6 0 1 0 1.2 0a0.6 0.6 0 1 0 -1.2 0 M99.1 332.7a0.6 0.6 0 1 0 1.2 0a0.6 0.6 0 1 0 -1.2 0 M101.8 323.9a0.6 0.6 0 1 0 1.2 0a0.6 0.6 0 1 0 -1.2 0 M105.6 316.8a0.6 0.6 0 1 0 1.2 0a0.6 0.6 0 1 0 -1.2 0 M112.1 310.1a0.6 0.6 0 1 0 1.2 0a0.6 0.6 0 1 0 -1.2 0 M112.8 304.2a0.6 0.6 0 1 0 1.2 0a0.6 0.6 0 1 0 -1.2 0 M115.3 303.3a0.7 0.7 0 1 0 1.4 0a0.7 0.7 0 1 0 -1.4 0 M98.1 330.3a0.6 0.6 0 1 0 1.2 0a0.6 0.6 0 1 0 -1.2 0 M96.6 327.6a0.6 0.6 0 1 0 1.2 0a0.6 0.6 0 1 0 -1.2 0 M99.7 324.2a0.6 0.6 0 1 0 1.2 0a0.6 0.6 0 1 0 -1.2 0 M97.7 320.2a0.6 0.6 0 1 0 1.2 0a0.6 0.6 0 1 0 -1.2 0 M100.8 318.7a0.6 0.6 0 1 0 1.2 0a0.6 0.6 0 1 0 -1.2 0 M100.7 316.4a0.7 0.7 0 1 0 1.4 0a0.7 0.7 0 1 0 -1.4 0 M109.9 316.5a0.6 0.6 0 1 0 1.2 0a0.6 0.6 0 1 0 -1.2 0 M113.8 311.9a0.6 0.6 0 1 0 1.2 0a0.6 0.6 0 1 0 -1.2 0 M113.3 308.7a0.6 0.6 0 1 0 1.2 0a0.6 0.6 0 1 0 -1.2 0 M113.9 309.5a0.7 0.7 0 1 0 1.4 0a0.7 0.7 0 1 0 -1.4 0 M97.0 329.0a0.6 0.6 0 1 0 1.2 0a0.6 0.6 0 1 0 -1.2 0 M100.8 324.6a0.6 0.6 0 1 0 1.2 0a0.6 0.6 0 1 0 -1.2 0 M105.2 322.9a0.6 0.6 0 1 0 1.2 0a0.6 0.6 0 1 0 -1.2 0 M105.3 317.6a0.6 0.6 0 1 0 1.2 0a0.6 0.6 0 1 0 -1.2 0 M105.5 320.0a0.7 0.7 0 1 0 1.4 0a0.7 0.7 0 1 0 -1.4 0 M95.6 343.0a0.6 0.6 0 1 0 1.2 0a0.6 0.6 0 1 0 -1.2 0 M99.4 341.9a0.6 0.6 0 1 0 1.2 0a0.6 0.6 0 1 0 -1.2 0 M100.2 337.8a0.6 0.6 0 1 0 1.2 0a0.6 0.6 0 1 0 -1.2 0 M104.4 332.7a0.6 0.6 0 1 0 1.2 0a0.6 0.6 0 1 0 -1.2 0 M108.8 331.1a0.6 0.6 0 1 0 1.2 0a0.6 0.6 0 1 0 -1.2 0 M116.2 322.3a0.6 0.6 0 1 0 1.2 0a0.6 0.6 0 1 0 -1.2 0 M117.4 317.7a0.6 0.6 0 1 0 1.2 0a0.6 0.6 0 1 0 -1.2 0 M117.6 319.2a0.7 0.7 0 1 0 1.4 0a0.7 0.7 0 1 0 -1.4 0 M104.2 335.8a0.6 0.6 0 1 0 1.2 0a0.6 0.6 0 1 0 -1.2 0 M111.2 332.3a0.7 0.7 0 1 0 1.4 0a0.7 0.7 0 1 0 -1.4 0 M108.1 320.8a0.7 0.7 0 1 0 1.4 0a0.7 0.7 0 1 0 -1.4 0 M98.8 351.4a0.6 0.6 0 1 0 1.2 0a0.6 0.6 0 1 0 -1.2 0 M99.8 347.7a0.6 0.6 0 1 0 1.2 0a0.6 0.6 0 1 0 -1.2 0 M103.3 349.0a0.6 0.6 0 1 0 1.2 0a0.6 0.6 0 1 0 -1.2 0 M110.4 341.4a0.6 0.6 0 1 0 1.2 0a0.6 0.6 0 1 0 -1.2 0 M113.3 339.5a0.6 0.6 0 1 0 1.2 0a0.6 0.6 0 1 0 -1.2 0 M124.3 335.0a0.7 0.7 0 1 0 1.4 0a0.7 0.7 0 1 0 -1.4 0 M103.5 341.8a0.6 0.6 0 1 0 1.2 0a0.6 0.6 0 1 0 -1.2 0 M112.8 333.3a0.6 0.6 0 1 0 1.2 0a0.6 0.6 0 1 0 -1.2 0 M113.0 334.6a0.7 0.7 0 1 0 1.4 0a0.7 0.7 0 1 0 -1.4 0 M123.4 339.3a0.7 0.7 0 1 0 1.4 0a0.7 0.7 0 1 0 -1.4 0 M107.0 355.3a0.6 0.6 0 1 0 1.2 0a0.6 0.6 0 1 0 -1.2 0 M107.7 352.6a0.6 0.6 0 1 0 1.2 0a0.6 0.6 0 1 0 -1.2 0 M114.0 350.1a0.6 0.6 0 1 0 1.2 0a0.6 0.6 0 1 0 -1.2 0 M125.9 348.8a0.6 0.6 0 1 0 1.2 0a0.6 0.6 0 1 0 -1.2 0 M127.2 344.8a0.6 0.6 0 1 0 1.2 0a0.6 0.6 0 1 0 -1.2 0 M132.8 345.4a0.6 0.6 0 1 0 1.2 0a0.6 0.6 0 1 0 -1.2 0 M137.3 343.6a0.6 0.6 0 1 0 1.2 0a0.6 0.6 0 1 0 -1.2 0 M144.0 338.4a0.6 0.6 0 1 0 1.2 0a0.6 0.6 0 1 0 -1.2 0 M144.9 339.7a0.7 0.7 0 1 0 1.4 0a0.7 0.7 0 1 0 -1.4 0 M121.1 353.2a0.6 0.6 0 1 0 1.2 0a0.6 0.6 0 1 0 -1.2 0 M125.7 355.1a0.6 0.6 0 1 0 1.2 0a0.6 0.6 0 1 0 -1.2 0 M130.1 353.8a0.6 0.6 0 1 0 1.2 0a0.6 0.6 0 1 0 -1.2 0 M131.5 352.9a0.7 0.7 0 1 0 1.4 0a0.7 0.7 0 1 0 -1.4 0 M124.4 342.2a0.6 0.6 0 1 0 1.2 0a0.6 0.6 0 1 0 -1.2 0 M124.5 339.1a0.6 0.6 0 1 0 1.2 0a0.6 0.6 0 1 0 -1.2 0 M129.6 337.7a0.6 0.6 0 1 0 1.2 0a0.6 0.6 0 1 0 -1.2 0 M129.0 336.3a0.7 0.7 0 1 0 1.4 0a0.7 0.7 0 1 0 -1.4 0 M135.5 347.1a0.6 0.6 0 1 0 1.2 0a0.6 0.6 0 1 0 -1.2 0 M137.7 344.8a0.6 0.6 0 1 0 1.2 0a0.6 0.6 0 1 0 -1.2 0 M138.6 345.3a0.7 0.7 0 1 0 1.4 0a0.7 0.7 0 1 0 -1.4 0 M105.4 357.8a0.6 0.6 0 1 0 1.2 0a0.6 0.6 0 1 0 -1.2 0 M115.4 358.0a0.6 0.6 0 1 0 1.2 0a0.6 0.6 0 1 0 -1.2 0 M117.0 355.2a0.6 0.6 0 1 0 1.2 0a0.6 0.6 0 1 0 -1.2 0 M128.3 352.3a0.6 0.6 0 1 0 1.2 0a0.6 0.6 0 1 0 -1.2 0 M129.8 353.0a0.7 0.7 0 1 0 1.4 0a0.7 0.7 0 1 0 -1.4 0 M114.6 361.3a0.6 0.6 0 1 0 1.2 0a0.6 0.6 0 1 0 -1.2 0 M123.8 360.1a0.7 0.7 0 1 0 1.4 0a0.7 0.7 0 1 0 -1.4 0 M122.4 352.4a0.6 0.6 0 1 0 1.2 0a0.6 0.6 0 1 0 -1.2 0 M127.8 353.2a0.6 0.6 0 1 0 1.2 0a0.6 0.6 0 1 0 -1.2 0 M126.4 351.8a0.7 0.7 0 1 0 1.4 0a0.7 0.7 0 1 0 -1.4 0 M117.2 360.1a0.6 0.6 0 1 0 1.2 0a0.6 0.6 0 1 0 -1.2 0 M123.8 359.8a0.6 0.6 0 1 0 1.2 0a0.6 0.6 0 1 0 -1.2 0 M124.8 357.1a0.6 0.6 0 1 0 1.2 0a0.6 0.6 0 1 0 -1.2 0 M128.3 358.8a0.6 0.6 0 1 0 1.2 0a0.6 0.6 0 1 0 -1.2 0 M135.8 358.5a0.6 0.6 0 1 0 1.2 0a0.6 0.6 0 1 0 -1.2 0 M134.3 357.0a0.7 0.7 0 1 0 1.4 0a0.7 0.7 0 1 0 -1.4 0 M125.5 355.5a0.6 0.6 0 1 0 1.2 0a0.6 0.6 0 1 0 -1.2 0 M129.5 356.9a0.6 0.6 0 1 0 1.2 0a0.6 0.6 0 1 0 -1.2 0 M129.5 355.6a0.7 0.7 0 1 0 1.4 0a0.7 0.7 0 1 0 -1.4 0 M129.8 369.5a0.7 0.7 0 1 0 1.4 0a0.7 0.7 0 1 0 -1.4 0 M119.6 361.9a0.6 0.6 0 1 0 1.2 0a0.6 0.6 0 1 0 -1.2 0 M119.1 363.2a0.7 0.7 0 1 0 1.4 0a0.7 0.7 0 1 0 -1.4 0 M118.5 369.1a0.6 0.6 0 1 0 1.2 0a0.6 0.6 0 1 0 -1.2 0 M119.2 372.3a0.6 0.6 0 1 0 1.2 0a0.6 0.6 0 1 0 -1.2 0 M123.7 373.6a0.7 0.7 0 1 0 1.4 0a0.7 0.7 0 1 0 -1.4 0 M113.2 371.7a0.6 0.6 0 1 0 1.2 0a0.6 0.6 0 1 0 -1.2 0 M114.6 376.4a0.6 0.6 0 1 0 1.2 0a0.6 0.6 0 1 0 -1.2 0 M120.7 380.4a0.6 0.6 0 1 0 1.2 0a0.6 0.6 0 1 0 -1.2 0 M122.2 379.4a0.7 0.7 0 1 0 1.4 0a0.7 0.7 0 1 0 -1.4 0 M119.5 375.9a0.7 0.7 0 1 0 1.4 0a0.7 0.7 0 1 0 -1.4 0 M99.1 385.7a0.6 0.6 0 1 0 1.2 0a0.6 0.6 0 1 0 -1.2 0 M103.3 383.1a0.6 0.6 0 1 0 1.2 0a0.6 0.6 0 1 0 -1.2 0 M105.7 387.1a0.6 0.6 0 1 0 1.2 0a0.6 0.6 0 1 0 -1.2 0 M109.5 384.8a0.6 0.6 0 1 0 1.2 0a0.6 0.6 0 1 0 -1.2 0 M116.4 387.9a0.6 0.6 0 1 0 1.2 0a0.6 0.6 0 1 0 -1.2 0 M120.7 387.0a0.7 0.7 0 1 0 1.4 0a0.7 0.7 0 1 0 -1.4 0 M113.9 388.5a0.7 0.7 0 1 0 1.4 0a0.7 0.7 0 1 0 -1.4 0 M109.3 394.3a0.6 0.6 0 1 0 1.2 0a0.6 0.6 0 1 0 -1.2 0 M121.1 393.5a0.6 0.6 0 1 0 1.2 0a0.6 0.6 0 1 0 -1.2 0 M123.5 395.6a0.6 0.6 0 1 0 1.2 0a0.6 0.6 0 1 0 -1.2 0 M125.4 393.0a0.6 0.6 0 1 0 1.2 0a0.6 0.6 0 1 0 -1.2 0 M138.8 393.0a0.7 0.7 0 1 0 1.4 0a0.7 0.7 0 1 0 -1.4 0 M119.7 402.3a0.6 0.6 0 1 0 1.2 0a0.6 0.6 0 1 0 -1.2 0 M120.9 404.0a0.7 0.7 0 1 0 1.4 0a0.7 0.7 0 1 0 -1.4 0 M129.5 393.6a0.6 0.6 0 1 0 1.2 0a0.6 0.6 0 1 0 -1.2 0 M133.0 390.5a0.6 0.6 0 1 0 1.2 0a0.6 0.6 0 1 0 -1.2 0 M132.5 392.1a0.7 0.7 0 1 0 1.4 0a0.7 0.7 0 1 0 -1.4 0 M123.3 400.1a0.6 0.6 0 1 0 1.2 0a0.6 0.6 0 1 0 -1.2 0 M141.3 398.8a0.6 0.6 0 1 0 1.2 0a0.6 0.6 0 1 0 -1.2 0 M143.2 402.4a0.6 0.6 0 1 0 1.2 0a0.6 0.6 0 1 0 -1.2 0 M146.3 401.4a0.7 0.7 0 1 0 1.4 0a0.7 0.7 0 1 0 -1.4 0 M135.6 400.8a0.6 0.6 0 1 0 1.2 0a0.6 0.6 0 1 0 -1.2 0 M138.1 404.0a0.6 0.6 0 1 0 1.2 0a0.6 0.6 0 1 0 -1.2 0 M139.0 402.6a0.7 0.7 0 1 0 1.4 0a0.7 0.7 0 1 0 -1.4 0 M143.4 398.7a0.7 0.7 0 1 0 1.4 0a0.7 0.7 0 1 0 -1.4 0 M131.0 403.7a0.6 0.6 0 1 0 1.2 0a0.6 0.6 0 1 0 -1.2 0 M132.2 407.2a0.6 0.6 0 1 0 1.2 0a0.6 0.6 0 1 0 -1.2 0 M136.9 407.3a0.6 0.6 0 1 0 1.2 0a0.6 0.6 0 1 0 -1.2 0 M137.9 412.4a0.6 0.6 0 1 0 1.2 0a0.6 0.6 0 1 0 -1.2 0 M141.5 411.8a0.6 0.6 0 1 0 1.2 0a0.6 0.6 0 1 0 -1.2 0 M147.8 419.9a0.6 0.6 0 1 0 1.2 0a0.6 0.6 0 1 0 -1.2 0 M147.9 418.8a0.7 0.7 0 1 0 1.4 0a0.7 0.7 0 1 0 -1.4 0 M141.0 407.9a0.6 0.6 0 1 0 1.2 0a0.6 0.6 0 1 0 -1.2 0 M143.7 412.1a0.6 0.6 0 1 0 1.2 0a0.6 0.6 0 1 0 -1.2 0 M147.0 411.5a0.7 0.7 0 1 0 1.4 0a0.7 0.7 0 1 0 -1.4 0 M143.3 418.8a0.6 0.6 0 1 0 1.2 0a0.6 0.6 0 1 0 -1.2 0 M145.1 418.7a0.7 0.7 0 1 0 1.4 0a0.7 0.7 0 1 0 -1.4 0 M131.6 407.2a0.6 0.6 0 1 0 1.2 0a0.6 0.6 0 1 0 -1.2 0 M131.8 410.8a0.6 0.6 0 1 0 1.2 0a0.6 0.6 0 1 0 -1.2 0 M137.0 413.3a0.6 0.6 0 1 0 1.2 0a0.6 0.6 0 1 0 -1.2 0 M136.1 417.0a0.6 0.6 0 1 0 1.2 0a0.6 0.6 0 1 0 -1.2 0 M139.9 417.9a0.6 0.6 0 1 0 1.2 0a0.6 0.6 0 1 0 -1.2 0 M138.3 418.0a0.7 0.7 0 1 0 1.4 0a0.7 0.7 0 1 0 -1.4 0 M106.4 407.2a0.6 0.6 0 1 0 1.2 0a0.6 0.6 0 1 0 -1.2 0 M109.8 406.4a0.6 0.6 0 1 0 1.2 0a0.6 0.6 0 1 0 -1.2 0 M114.6 411.8a0.6 0.6 0 1 0 1.2 0a0.6 0.6 0 1 0 -1.2 0 M115.7 417.2a0.6 0.6 0 1 0 1.2 0a0.6 0.6 0 1 0 -1.2 0 M119.9 416.5a0.6 0.6 0 1 0 1.2 0a0.6 0.6 0 1 0 -1.2 0 M119.4 420.1a0.6 0.6 0 1 0 1.2 0a0.6 0.6 0 1 0 -1.2 0 M131.3 430.0a0.7 0.7 0 1 0 1.4 0a0.7 0.7 0 1 0 -1.4 0 M116.7 419.2a0.7 0.7 0 1 0 1.4 0a0.7 0.7 0 1 0 -1.4 0 M121.6 414.8a0.6 0.6 0 1 0 1.2 0a0.6 0.6 0 1 0 -1.2 0 M127.3 419.4a0.7 0.7 0 1 0 1.4 0a0.7 0.7 0 1 0 -1.4 0 M122.1 423.3a0.6 0.6 0 1 0 1.2 0a0.6 0.6 0 1 0 -1.2 0 M124.8 429.2a0.7 0.7 0 1 0 1.4 0a0.7 0.7 0 1 0 -1.4 0 M101.2 406.5a0.6 0.6 0 1 0 1.2 0a0.6 0.6 0 1 0 -1.2 0 M106.1 412.3a0.6 0.6 0 1 0 1.2 0a0.6 0.6 0 1 0 -1.2 0 M106.8 411.0a0.7 0.7 0 1 0 1.4 0a0.7 0.7 0 1 0 -1.4 0 M113.4 412.9a0.6 0.6 0 1 0 1.2 0a0.6 0.6 0 1 0 -1.2 0 M113.6 418.1a0.6 0.6 0 1 0 1.2 0a0.6 0.6 0 1 0 -1.2 0 M116.5 419.0a0.7 0.7 0 1 0 1.4 0a0.7 0.7 0 1 0 -1.4 0 M104.1 418.3a0.6 0.6 0 1 0 1.2 0a0.6 0.6 0 1 0 -1.2 0 M102.4 421.6a0.6 0.6 0 1 0 1.2 0a0.6 0.6 0 1 0 -1.2 0 M105.9 423.3a0.6 0.6 0 1 0 1.2 0a0.6 0.6 0 1 0 -1.2 0 M105.9 427.7a0.6 0.6 0 1 0 1.2 0a0.6 0.6 0 1 0 -1.2 0 M110.0 437.2a0.6 0.6 0 1 0 1.2 0a0.6 0.6 0 1 0 -1.2 0 M113.8 440.3a0.6 0.6 0 1 0 1.2 0a0.6 0.6 0 1 0 -1.2 0 M114.9 445.4a0.6 0.6 0 1 0 1.2 0a0.6 0.6 0 1 0 -1.2 0 M112.6 448.5a0.6 0.6 0 1 0 1.2 0a0.6 0.6 0 1 0 -1.2 0 M115.4 454.5a0.7 0.7 0 1 0 1.4 0a0.7 0.7 0 1 0 -1.4 0 M111.9 426.6a0.6 0.6 0 1 0 1.2 0a0.6 0.6 0 1 0 -1.2 0 M113.8 431.6a0.6 0.6 0 1 0 1.2 0a0.6 0.6 0 1 0 -1.2 0 M118.3 433.3a0.6 0.6 0 1 0 1.2 0a0.6 0.6 0 1 0 -1.2 0 M118.1 434.8a0.7 0.7 0 1 0 1.4 0a0.7 0.7 0 1 0 -1.4 0 M112.2 442.8a0.6 0.6 0 1 0 1.2 0a0.6 0.6 0 1 0 -1.2 0 M110.9 447.1a0.6 0.6 0 1 0 1.2 0a0.6 0.6 0 1 0 -1.2 0 M112.2 449.2a0.7 0.7 0 1 0 1.4 0a0.7 0.7 0 1 0 -1.4 0 M110.2 428.6a0.6 0.6 0 1 0 1.2 0a0.6 0.6 0 1 0 -1.2 0 M116.5 431.5a0.7 0.7 0 1 0 1.4 0a0.7 0.7 0 1 0 -1.4 0 M101.9 430.0a0.6 0.6 0 1 0 1.2 0a0.6 0.6 0 1 0 -1.2 0 M104.1 435.0a0.7 0.7 0 1 0 1.4 0a0.7 0.7 0 1 0 -1.4 0 M96.6 422.0a0.6 0.6 0 1 0 1.2 0a0.6 0.6 0 1 0 -1.2 0 M94.1 431.5a0.6 0.6 0 1 0 1.2 0a0.6 0.6 0 1 0 -1.2 0 M96.2 434.2a0.6 0.6 0 1 0 1.2 0a0.6 0.6 0 1 0 -1.2 0 M94.0 436.6a0.6 0.6 0 1 0 1.2 0a0.6 0.6 0 1 0 -1.2 0 M96.1 441.1a0.6 0.6 0 1 0 1.2 0a0.6 0.6 0 1 0 -1.2 0 M94.8 443.5a0.7 0.7 0 1 0 1.4 0a0.7 0.7 0 1 0 -1.4 0 M89.8 434.2a0.6 0.6 0 1 0 1.2 0a0.6 0.6 0 1 0 -1.2 0 M90.3 435.5a0.7 0.7 0 1 0 1.4 0a0.7 0.7 0 1 0 -1.4 0 M95.3 434.4a0.6 0.6 0 1 0 1.2 0a0.6 0.6 0 1 0 -1.2 0 M99.3 436.7a0.6 0.6 0 1 0 1.2 0a0.6 0.6 0 1 0 -1.2 0 M97.0 440.4a0.7 0.7 0 1 0 1.4 0a0.7 0.7 0 1 0 -1.4 0 M90.6 422.3a0.6 0.6 0 1 0 1.2 0a0.6 0.6 0 1 0 -1.2 0 M87.8 434.8a0.6 0.6 0 1 0 1.2 0a0.6 0.6 0 1 0 -1.2 0 M85.7 437.1a0.6 0.6 0 1 0 1.2 0a0.6 0.6 0 1 0 -1.2 0 M85.6 453.8a0.6 0.6 0 1 0 1.2 0a0.6 0.6 0 1 0 -1.2 0 M83.7 456.3a0.7 0.7 0 1 0 1.4 0a0.7 0.7 0 1 0 -1.4 0 M92.3 437.6a0.6 0.6 0 1 0 1.2 0a0.6 0.6 0 1 0 -1.2 0 M89.8 441.0a0.6 0.6 0 1 0 1.2 0a0.6 0.6 0 1 0 -1.2 0 M92.5 443.3a0.6 0.6 0 1 0 1.2 0a0.6 0.6 0 1 0 -1.2 0 M91.0 445.3a0.7 0.7 0 1 0 1.4 0a0.7 0.7 0 1 0 -1.4 0 M83.1 437.8a0.6 0.6 0 1 0 1.2 0a0.6 0.6 0 1 0 -1.2 0 M84.0 442.4a0.6 0.6 0 1 0 1.2 0a0.6 0.6 0 1 0 -1.2 0 M80.1 444.1a0.6 0.6 0 1 0 1.2 0a0.6 0.6 0 1 0 -1.2 0 M81.3 447.0a0.7 0.7 0 1 0 1.4 0a0.7 0.7 0 1 0 -1.4 0 M85.2 446.4a0.6 0.6 0 1 0 1.2 0a0.6 0.6 0 1 0 -1.2 0 M88.7 449.8a0.6 0.6 0 1 0 1.2 0a0.6 0.6 0 1 0 -1.2 0 M87.1 452.1a0.7 0.7 0 1 0 1.4 0a0.7 0.7 0 1 0 -1.4 0 M82.3 418.0a0.6 0.6 0 1 0 1.2 0a0.6 0.6 0 1 0 -1.2 0 M82.5 422.1a0.6 0.6 0 1 0 1.2 0a0.6 0.6 0 1 0 -1.2 0 M78.3 425.3a0.7 0.7 0 1 0 1.4 0a0.7 0.7 0 1 0 -1.4 0 M87.7 422.9a0.6 0.6 0 1 0 1.2 0a0.6 0.6 0 1 0 -1.2 0 M86.4 422.8a0.7 0.7 0 1 0 1.4 0a0.7 0.7 0 1 0 -1.4 0 M82.3 412.2a0.6 0.6 0 1 0 1.2 0a0.6 0.6 0 1 0 -1.2 0 M77.5 416.6a0.6 0.6 0 1 0 1.2 0a0.6 0.6 0 1 0 -1.2 0 M60.6 426.2a0.7 0.7 0 1 0 1.4 0a0.7 0.7 0 1 0 -1.4 0 M80.0 418.4a0.6 0.6 0 1 0 1.2 0a0.6 0.6 0 1 0 -1.2 0 M76.2 420.6a0.6 0.6 0 1 0 1.2 0a0.6 0.6 0 1 0 -1.2 0 M77.1 423.3a0.6 0.6 0 1 0 1.2 0a0.6 0.6 0 1 0 -1.2 0 M75.9 423.8a0.7 0.7 0 1 0 1.4 0a0.7 0.7 0 1 0 -1.4 0 M69.0 418.8a0.6 0.6 0 1 0 1.2 0a0.6 0.6 0 1 0 -1.2 0 M63.8 420.4a0.6 0.6 0 1 0 1.2 0a0.6 0.6 0 1 0 -1.2 0 M63.3 419.5a0.7 0.7 0 1 0 1.4 0a0.7 0.7 0 1 0 -1.4 0 M67.8 427.0a0.6 0.6 0 1 0 1.2 0a0.6 0.6 0 1 0 -1.2 0 M65.8 427.7a0.7 0.7 0 1 0 1.4 0a0.7 0.7 0 1 0 -1.4 0 M70.1 398.6a0.6 0.6 0 1 0 1.2 0a0.6 0.6 0 1 0 -1.2 0 M63.3 404.8a0.6 0.6 0 1 0 1.2 0a0.6 0.6 0 1 0 -1.2 0 M60.4 403.4a0.6 0.6 0 1 0 1.2 0a0.6 0.6 0 1 0 -1.2 0 M59.0 406.5a0.6 0.6 0 1 0 1.2 0a0.6 0.6 0 1 0 -1.2 0 M48.4 406.7a0.6 0.6 0 1 0 1.2 0a0.6 0.6 0 1 0 -1.2 0 M46.0 409.8a0.6 0.6 0 1 0 1.2 0a0.6 0.6 0 1 0 -1.2 0 M46.4 408.4a0.7 0.7 0 1 0 1.4 0a0.7 0.7 0 1 0 -1.4 0 M66.5 396.6a0.6 0.6 0 1 0 1.2 0a0.6 0.6 0 1 0 -1.2 0 M58.0 401.2a0.6 0.6 0 1 0 1.2 0a0.6 0.6 0 1 0 -1.2 0 M57.0 399.8a0.7 0.7 0 1 0 1.4 0a0.7 0.7 0 1 0 -1.4 0 M60.2 407.0a0.6 0.6 0 1 0 1.2 0a0.6 0.6 0 1 0 -1.2 0 M56.9 409.8a0.6 0.6 0 1 0 1.2 0a0.6 0.6 0 1 0 -1.2 0 M57.5 410.9a0.7 0.7 0 1 0 1.4 0a0.7 0.7 0 1 0 -1.4 0 M49.5 406.3a0.7 0.7 0 1 0 1.4 0a0.7 0.7 0 1 0 -1.4 0 M78.4 399.5a0.6 0.6 0 1 0 1.2 0a0.6 0.6 0 1 0 -1.2 0 M72.5 399.7a0.6 0.6 0 1 0 1.2 0a0.6 0.6 0 1 0 -1.2 0 M70.4 404.6a0.6 0.6 0 1 0 1.2 0a0.6 0.6 0 1 0 -1.2 0 M65.9 403.5a0.6 0.6 0 1 0 1.2 0a0.6 0.6 0 1 0 -1.2 0 M63.8 406.8a0.6 0.6 0 1 0 1.2 0a0.6 0.6 0 1 0 -1.2 0 M59.5 405.4a0.6 0.6 0 1 0 1.2 0a0.6 0.6 0 1 0 -1.2 0 M60.6 406.6a0.7 0.7 0 1 0 1.4 0a0.7 0.7 0 1 0 -1.4 0 M67.6 409.2a0.7 0.7 0 1 0 1.4 0a0.7 0.7 0 1 0 -1.4 0 M77.3 384.4a0.6 0.6 0 1 0 1.2 0a0.6 0.6 0 1 0 -1.2 0 M59.3 386.0a0.7 0.7 0 1 0 1.4 0a0.7 0.7 0 1 0 -1.4 0 M68.9 383.2a0.6 0.6 0 1 0 1.2 0a0.6 0.6 0 1 0 -1.2 0 M67.3 381.3a0.6 0.6 0 1 0 1.2 0a0.6 0.6 0 1 0 -1.2 0 M63.5 384.0a0.6 0.6 0 1 0 1.2 0a0.6 0.6 0 1 0 -1.2 0 M63.8 382.4a0.7 0.7 0 1 0 1.4 0a0.7 0.7 0 1 0 -1.4 0 M76.3 389.6a0.6 0.6 0 1 0 1.2 0a0.6 0.6 0 1 0 -1.2 0 M65.3 391.0a0.6 0.6 0 1 0 1.2 0a0.6 0.6 0 1 0 -1.2 0 M64.1 393.9a0.6 0.6 0 1 0 1.2 0a0.6 0.6 0 1 0 -1.2 0 M60.5 391.5a0.6 0.6 0 1 0 1.2 0a0.6 0.6 0 1 0 -1.2 0 M61.3 393.0a0.7 0.7 0 1 0 1.4 0a0.7 0.7 0 1 0 -1.4 0 M69.8 392.1a0.6 0.6 0 1 0 1.2 0a0.6 0.6 0 1 0 -1.2 0 M68.5 395.0a0.7 0.7 0 1 0 1.4 0a0.7 0.7 0 1 0 -1.4 0 M78.6 392.6a0.6 0.6 0 1 0 1.2 0a0.6 0.6 0 1 0 -1.2 0 M73.5 392.5a0.6 0.6 0 1 0 1.2 0a0.6 0.6 0 1 0 -1.2 0 M71.9 397.0a0.6 0.6 0 1 0 1.2 0a0.6 0.6 0 1 0 -1.2 0 M71.3 395.0a0.7 0.7 0 1 0 1.4 0a0.7 0.7 0 1 0 -1.4 0 M63.0 371.3a0.6 0.6 0 1 0 1.2 0a0.6 0.6 0 1 0 -1.2 0 M53.4 371.5a0.6 0.6 0 1 0 1.2 0a0.6 0.6 0 1 0 -1.2 0 M48.9 368.1a0.6 0.6 0 1 0 1.2 0a0.6 0.6 0 1 0 -1.2 0 M48.9 367.0a0.7 0.7 0 1 0 1.4 0a0.7 0.7 0 1 0 -1.4 0 M45.2 358.7a0.6 0.6 0 1 0 1.2 0a0.6 0.6 0 1 0 -1.2 0 M42.9 353.3a0.6 0.6 0 1 0 1.2 0a0.6 0.6 0 1 0 -1.2 0 M38.4 351.4a0.6 0.6 0 1 0 1.2 0a0.6 0.6 0 1 0 -1.2 0 M36.8 345.4a0.7 0.7 0 1 0 1.4 0a0.7 0.7 0 1 0 -1.4 0 M36.9 355.0a0.6 0.6 0 1 0 1.2 0a0.6 0.6 0 1 0 -1.2 0 M35.2 352.1a0.6 0.6 0 1 0 1.2 0a0.6 0.6 0 1 0 -1.2 0 M30.8 353.2a0.7 0.7 0 1 0 1.4 0a0.7 0.7 0 1 0 -1.4 0 M35.6 359.0a0.6 0.6 0 1 0 1.2 0a0.6 0.6 0 1 0 -1.2 0 M33.6 356.8a0.6 0.6 0 1 0 1.2 0a0.6 0.6 0 1 0 -1.2 0 M33.3 358.4a0.7 0.7 0 1 0 1.4 0a0.7 0.7 0 1 0 -1.4 0 M43.9 361.3a0.6 0.6 0 1 0 1.2 0a0.6 0.6 0 1 0 -1.2 0 M39.4 362.7a0.6 0.6 0 1 0 1.2 0a0.6 0.6 0 1 0 -1.2 0 M38.5 362.7a0.7 0.7 0 1 0 1.4 0a0.7 0.7 0 1 0 -1.4 0 M36.6 374.0a0.6 0.6 0 1 0 1.2 0a0.6 0.6 0 1 0 -1.2 0 M30.8 373.9a0.6 0.6 0 1 0 1.2 0a0.6 0.6 0 1 0 -1.2 0 M30.8 372.2a0.7 0.7 0 1 0 1.4 0a0.7 0.7 0 1 0 -1.4 0 M40.1 369.3a0.6 0.6 0 1 0 1.2 0a0.6 0.6 0 1 0 -1.2 0 M34.3 369.1a0.7 0.7 0 1 0 1.4 0a0.7 0.7 0 1 0 -1.4 0 M33.6 372.4a0.6 0.6 0 1 0 1.2 0a0.6 0.6 0 1 0 -1.2 0 M32.6 374.1a0.7 0.7 0 1 0 1.4 0a0.7 0.7 0 1 0 -1.4 0 M40.2 382.9a0.6 0.6 0 1 0 1.2 0a0.6 0.6 0 1 0 -1.2 0 M25.9 380.4a0.6 0.6 0 1 0 1.2 0a0.6 0.6 0 1 0 -1.2 0 M21.2 382.6a0.7 0.7 0 1 0 1.4 0a0.7 0.7 0 1 0 -1.4 0 M33.1 378.8a0.6 0.6 0 1 0 1.2 0a0.6 0.6 0 1 0 -1.2 0 M31.6 379.7a0.7 0.7 0 1 0 1.4 0a0.7 0.7 0 1 0 -1.4 0 M25.0 386.2a0.6 0.6 0 1 0 1.2 0a0.6 0.6 0 1 0 -1.2 0 M25.0 385.1a0.7 0.7 0 1 0 1.4 0a0.7 0.7 0 1 0 -1.4 0 M29.4 393.9a0.6 0.6 0 1 0 1.2 0a0.6 0.6 0 1 0 -1.2 0 M23.5 395.9a0.6 0.6 0 1 0 1.2 0a0.6 0.6 0 1 0 -1.2 0 M22.1 397.3a0.7 0.7 0 1 0 1.4 0a0.7 0.7 0 1 0 -1.4 0 M32.5 402.6a0.6 0.6 0 1 0 1.2 0a0.6 0.6 0 1 0 -1.2 0 M31.4 401.9a0.7 0.7 0 1 0 1.4 0a0.7 0.7 0 1 0 -1.4 0 M24.7 398.3a0.6 0.6 0 1 0 1.2 0a0.6 0.6 0 1 0 -1.2 0 M24.1 397.4a0.7 0.7 0 1 0 1.4 0a0.7 0.7 0 1 0 -1.4 0 M31.0 399.6a0.6 0.6 0 1 0 1.2 0a0.6 0.6 0 1 0 -1.2 0 M25.8 401.4a0.6 0.6 0 1 0 1.2 0a0.6 0.6 0 1 0 -1.2 0 M27.3 401.7a0.7 0.7 0 1 0 1.4 0a0.7 0.7 0 1 0 -1.4 0 M51.7 380.6a0.6 0.6 0 1 0 1.2 0a0.6 0.6 0 1 0 -1.2 0 M48.9 387.0a0.7 0.7 0 1 0 1.4 0a0.7 0.7 0 1 0 -1.4 0 M74.2 354.1a0.6 0.6 0 1 0 1.2 0a0.6 0.6 0 1 0 -1.2 0 M69.4 355.4a0.6 0.6 0 1 0 1.2 0a0.6 0.6 0 1 0 -1.2 0 M68.0 352.2a0.6 0.6 0 1 0 1.2 0a0.6 0.6 0 1 0 -1.2 0 M63.2 353.5a0.6 0.6 0 1 0 1.2 0a0.6 0.6 0 1 0 -1.2 0 M62.7 351.6a0.7 0.7 0 1 0 1.4 0a0.7 0.7 0 1 0 -1.4 0 M63.6 353.7a0.6 0.6 0 1 0 1.2 0a0.6 0.6 0 1 0 -1.2 0 M64.7 352.9a0.7 0.7 0 1 0 1.4 0a0.7 0.7 0 1 0 -1.4 0 M74.5 363.5a0.6 0.6 0 1 0 1.2 0a0.6 0.6 0 1 0 -1.2 0 M72.7 359.8a0.6 0.6 0 1 0 1.2 0a0.6 0.6 0 1 0 -1.2 0 M65.6 358.3a0.6 0.6 0 1 0 1.2 0a0.6 0.6 0 1 0 -1.2 0 M61.1 358.1a0.6 0.6 0 1 0 1.2 0a0.6 0.6 0 1 0 -1.2 0 M61.3 359.4a0.7 0.7 0 1 0 1.4 0a0.7 0.7 0 1 0 -1.4 0 M64.8 361.0a0.7 0.7 0 1 0 1.4 0a0.7 0.7 0 1 0 -1.4 0 M75.4 364.1a0.6 0.6 0 1 0 1.2 0a0.6 0.6 0 1 0 -1.2 0 M71.3 366.5a0.6 0.6 0 1 0 1.2 0a0.6 0.6 0 1 0 -1.2 0 M68.9 363.3a0.6 0.6 0 1 0 1.2 0a0.6 0.6 0 1 0 -1.2 0 M66.0 365.9a0.6 0.6 0 1 0 1.2 0a0.6 0.6 0 1 0 -1.2 0 M61.9 362.8a0.6 0.6 0 1 0 1.2 0a0.6 0.6 0 1 0 -1.2 0 M62.0 364.0a0.7 0.7 0 1 0 1.4 0a0.7 0.7 0 1 0 -1.4 0 M76.1 366.3a0.6 0.6 0 1 0 1.2 0a0.6 0.6 0 1 0 -1.2 0 M71.9 369.2a0.6 0.6 0 1 0 1.2 0a0.6 0.6 0 1 0 -1.2 0 M69.2 366.2a0.6 0.6 0 1 0 1.2 0a0.6 0.6 0 1 0 -1.2 0 M65.9 366.5a0.6 0.6 0 1 0 1.2 0a0.6 0.6 0 1 0 -1.2 0 M64.0 367.9a0.7 0.7 0 1 0 1.4 0a0.7 0.7 0 1 0 -1.4 0 M73.3 373.7a0.6 0.6 0 1 0 1.2 0a0.6 0.6 0 1 0 -1.2 0 M66.0 380.4a0.6 0.6 0 1 0 1.2 0a0.6 0.6 0 1 0 -1.2 0 M65.3 379.5a0.7 0.7 0 1 0 1.4 0a0.7 0.7 0 1 0 -1.4 0" fill="#111"/>
<circle cx="64" cy="295.3" r="8.8" fill="#e3202b"/>
<circle cx="50.3" cy="286.8" r="2.3" fill="#e3202b"/>
<circle cx="50.4" cy="296.3" r="2.8" fill="#e3202b"/>
<circle cx="82.1" cy="310.5" r="2.9" fill="#e3202b"/>
<circle cx="62.6" cy="285.8" r="1.0" fill="#e3202b"/>
<circle cx="72.8" cy="299.2" r="1.0" fill="#e3202b"/>
</g>
<g id="D">
<line x1="252.1" y1="406.8" x2="473.9" y2="406.8" stroke="#1a1a1a" stroke-width="0.9"/>
<path d="M258.66 406.8v2.9 M264.32 406.8v2.9 M268.33 406.8v2.9 M271.44 406.8v2.9 M273.98 406.8v2.9 M276.13 406.8v2.9 M277.99 406.8v2.9 M279.63 406.8v2.9 M281.10 406.8v4.5 M290.76 406.8v2.9 M296.42 406.8v2.9 M300.43 406.8v2.9 M303.54 406.8v2.9 M306.08 406.8v2.9 M308.23 406.8v2.9 M310.09 406.8v2.9 M311.73 406.8v2.9 M313.20 406.8v4.5 M322.86 406.8v2.9 M328.52 406.8v2.9 M332.53 406.8v2.9 M335.64 406.8v2.9 M338.18 406.8v2.9 M340.33 406.8v2.9 M342.19 406.8v2.9 M343.83 406.8v2.9 M345.30 406.8v4.5 M354.96 406.8v2.9 M360.62 406.8v2.9 M364.63 406.8v2.9 M367.74 406.8v2.9 M370.28 406.8v2.9 M372.43 406.8v2.9 M374.29 406.8v2.9 M375.93 406.8v2.9 M377.40 406.8v4.5 M387.06 406.8v2.9 M392.72 406.8v2.9 M396.73 406.8v2.9 M399.84 406.8v2.9 M402.38 406.8v2.9 M404.53 406.8v2.9 M406.39 406.8v2.9 M408.03 406.8v2.9 M409.50 406.8v4.5 M419.16 406.8v2.9 M424.82 406.8v2.9 M428.83 406.8v2.9 M431.94 406.8v2.9 M434.48 406.8v2.9 M436.63 406.8v2.9 M438.49 406.8v2.9 M440.13 406.8v2.9 M441.60 406.8v4.5 M451.26 406.8v2.9 M456.92 406.8v2.9 M460.93 406.8v2.9 M464.04 406.8v2.9 M466.58 406.8v2.9 M468.73 406.8v2.9 M470.59 406.8v2.9 M472.23 406.8v2.9 M473.70 406.8v4.5" stroke="#1a1a1a" stroke-width="0.85" fill="none"/>
<line x1="252.1" y1="297.60" x2="252.1" y2="443.20" stroke="#1a1a1a" stroke-width="0.9"/>
<line x1="248.5" y1="297.60" x2="252.1" y2="297.60" stroke="#1a1a1a" stroke-width="0.9"/>
<text x="245.3" y="300.80" font-size="9.9" text-anchor="end" fill="#1a1a1a">120</text>
<line x1="248.5" y1="334.00" x2="252.1" y2="334.00" stroke="#1a1a1a" stroke-width="0.9"/>
<text x="245.3" y="337.20" font-size="9.9" text-anchor="end" fill="#1a1a1a">80</text>
<line x1="248.5" y1="370.40" x2="252.1" y2="370.40" stroke="#1a1a1a" stroke-width="0.9"/>
<text x="245.3" y="373.60" font-size="9.9" text-anchor="end" fill="#1a1a1a">40</text>
<line x1="248.5" y1="406.80" x2="252.1" y2="406.80" stroke="#1a1a1a" stroke-width="0.9"/>
<text x="245.3" y="410.00" font-size="9.9" text-anchor="end" fill="#1a1a1a">0</text>
<line x1="248.5" y1="443.20" x2="252.1" y2="443.20" stroke="#1a1a1a" stroke-width="0.9"/>
<text x="245.3" y="446.40" font-size="9.9" text-anchor="end" fill="#1a1a1a">−40</text>
<path d="M279.5,405.79 L281.5,405.79 L283.5,405.79 L285.5,405.79 L287.5,405.79 L289.5,405.79 L291.5,405.78 L293.5,405.78 L295.5,405.78 L297.5,405.77 L299.5,405.77 L301.5,405.76 L303.5,405.75 L305.5,405.74 L307.5,405.73 L309.5,405.71 L311.5,405.69 L313.5,405.67 L315.5,405.64 L317.5,405.61 L319.5,405.57 L321.5,405.52 L323.5,405.47 L325.5,405.40 L327.5,405.31 L329.5,405.21 L331.5,405.09 L333.5,404.94 L335.5,404.76 L337.5,404.55 L339.5,404.29 L341.5,403.98 L343.5,403.60 L345.5,403.16 L347.5,402.62 L349.5,401.98 L351.5,401.22 L353.5,400.32 L355.5,399.25 L357.5,397.99 L359.5,396.51 L361.5,394.80 L363.5,392.81 L365.5,390.54 L367.5,387.96 L369.5,385.05 L371.5,381.83 L373.5,378.30 L375.5,374.49 L377.5,370.44 L379.5,366.20 L381.5,361.85 L383.5,357.45 L385.5,353.10 L387.5,348.86 L389.5,344.81 L391.5,341.00 L393.5,337.47 L395.5,334.25 L397.5,331.34 L399.5,328.76 L401.5,326.49 L403.5,324.50 L405.5,322.79 L407.5,321.31 L409.5,320.05 L411.5,318.98 L413.5,318.08 L415.5,317.32 L417.5,316.68 L419.5,316.14 L421.5,315.70 L423.5,315.32 L425.5,315.01 L427.5,314.75 L429.5,314.54 L431.5,314.36 L433.5,314.21 L435.5,314.09 L437.5,313.99 L439.5,313.90 L441.5,313.83 L443.5,313.78 L445.5,313.73 L447.5,313.69 L449.5,313.66 L451.5,313.63 L453.5,313.61" stroke="#1f9d55" stroke-width="1.7" fill="none"/>
<path d="M298.85 392.40V407.00M296.45 392.40h4.8M296.45 407.00h4.8 M337.55 413.20V424.20M335.15 413.20h4.8M335.15 424.20h4.8" stroke="#1f9d55" stroke-width="1.0" fill="none"/>
<circle cx="279.50" cy="405.50" r="3.1" fill="#1f9d55"/>
<circle cx="298.85" cy="399.70" r="3.1" fill="#1f9d55"/>
<circle cx="318.20" cy="406.50" r="3.1" fill="#1f9d55"/>
<circle cx="337.55" cy="418.70" r="3.1" fill="#1f9d55"/>
<circle cx="356.90" cy="386.60" r="3.1" fill="#1f9d55"/>
<circle cx="376.25" cy="379.10" r="3.1" fill="#1f9d55"/>
<circle cx="395.60" cy="332.70" r="3.1" fill="#1f9d55"/>
<circle cx="414.95" cy="317.60" r="3.1" fill="#1f9d55"/>
<circle cx="434.30" cy="314.30" r="3.1" fill="#1f9d55"/>
<circle cx="453.65" cy="313.30" r="3.1" fill="#1f9d55"/>
<path d="M279.5,411.60 L281.5,411.60 L283.5,411.60 L285.5,411.60 L287.5,411.60 L289.5,411.60 L291.5,411.60 L293.5,411.60 L295.5,411.60 L297.5,411.60 L299.5,411.60 L301.5,411.60 L303.5,411.60 L305.5,411.60 L307.5,411.60 L309.5,411.59 L311.5,411.59 L313.5,411.59 L315.5,411.59 L317.5,411.59 L319.5,411.59 L321.5,411.58 L323.5,411.58 L325.5,411.57 L327.5,411.57 L329.5,411.56 L331.5,411.55 L333.5,411.54 L335.5,411.53 L337.5,411.51 L339.5,411.49 L341.5,411.47 L343.5,411.44 L345.5,411.40 L347.5,411.35 L349.5,411.30 L351.5,411.23 L353.5,411.15 L355.5,411.04 L357.5,410.92 L359.5,410.77 L361.5,410.58 L363.5,410.35 L365.5,410.07 L367.5,409.74 L369.5,409.32 L371.5,408.82 L373.5,408.22 L375.5,407.48 L377.5,406.60 L379.5,405.54 L381.5,404.27 L383.5,402.76 L385.5,400.98 L387.5,398.90 L389.5,396.47 L391.5,393.68 L393.5,390.51 L395.5,386.95 L397.5,383.03 L399.5,378.76 L401.5,374.20 L403.5,369.43 L405.5,364.53 L407.5,359.61 L409.5,354.77 L411.5,350.09 L413.5,345.67 L415.5,341.57 L417.5,337.82 L419.5,334.46 L421.5,331.48 L423.5,328.87 L425.5,326.62 L427.5,324.69 L429.5,323.05 L431.5,321.67 L433.5,320.51 L435.5,319.54 L437.5,318.73 L439.5,318.06 L441.5,317.51 L443.5,317.06 L445.5,316.69 L447.5,316.38 L449.5,316.13 L451.5,315.92 L453.5,315.75" stroke="#6a3d9a" stroke-width="1.7" fill="none"/>
<path d="M298.85 412.20V430.20M296.45 412.20h4.8M296.45 430.20h4.8 M318.20 404.50V415.50M315.80 404.50h4.8M315.80 415.50h4.8 M356.90 400.20V424.20M354.50 400.20h4.8M354.50 424.20h4.8 M376.25 389.90V407.90M373.85 389.90h4.8M373.85 407.90h4.8 M395.60 377.10V393.70M393.20 377.10h4.8M393.20 393.70h4.8 M414.95 338.20V348.20M412.55 338.20h4.8M412.55 348.20h4.8" stroke="#6a3d9a" stroke-width="1.0" fill="none"/>
<circle cx="279.50" cy="405.50" r="3.1" fill="#6a3d9a"/>
<circle cx="298.85" cy="421.20" r="3.1" fill="#6a3d9a"/>
<circle cx="318.20" cy="410.00" r="3.1" fill="#6a3d9a"/>
<circle cx="337.55" cy="411.70" r="3.1" fill="#6a3d9a"/>
<circle cx="356.90" cy="412.20" r="3.1" fill="#6a3d9a"/>
<circle cx="376.25" cy="398.90" r="3.1" fill="#6a3d9a"/>
<circle cx="395.60" cy="385.40" r="3.1" fill="#6a3d9a"/>
<circle cx="414.95" cy="343.20" r="3.1" fill="#6a3d9a"/>
<circle cx="434.30" cy="317.60" r="3.1" fill="#6a3d9a"/>
<circle cx="453.65" cy="315.10" r="3.1" fill="#6a3d9a"/>
<path d="M279.5,408.93 L281.5,408.90 L283.5,408.87 L285.5,408.84 L287.5,408.80 L289.5,408.76 L291.5,408.71 L293.5,408.66 L295.5,408.60 L297.5,408.52 L299.5,408.44 L301.5,408.35 L303.5,408.24 L305.5,408.12 L307.5,407.98 L309.5,407.83 L311.5,407.65 L313.5,407.44 L315.5,407.21 L317.5,406.95 L319.5,406.65 L321.5,406.31 L323.5,405.93 L325.5,405.49 L327.5,405.00 L329.5,404.44 L331.5,403.82 L333.5,403.11 L335.5,402.32 L337.5,401.43 L339.5,400.43 L341.5,399.33 L343.5,398.09 L345.5,396.73 L347.5,395.22 L349.5,393.56 L351.5,391.75 L353.5,389.78 L355.5,387.65 L357.5,385.35 L359.5,382.90 L361.5,380.29 L363.5,377.54 L365.5,374.67 L367.5,371.69 L369.5,368.63 L371.5,365.50 L373.5,362.34 L375.5,359.17 L377.5,356.03 L379.5,352.93 L381.5,349.90 L383.5,346.98 L385.5,344.17 L387.5,341.49 L389.5,338.96 L391.5,336.58 L393.5,334.37 L395.5,332.31 L397.5,330.42 L399.5,328.69 L401.5,327.11 L403.5,325.67 L405.5,324.38 L407.5,323.21 L409.5,322.15 L411.5,321.21 L413.5,320.37 L415.5,319.63 L417.5,318.96 L419.5,318.37 L421.5,317.85 L423.5,317.38 L425.5,316.97 L427.5,316.61 L429.5,316.29 L431.5,316.01 L433.5,315.77 L435.5,315.55 L437.5,315.36 L439.5,315.19 L441.5,315.04 L443.5,314.92 L445.5,314.80 L447.5,314.70 L449.5,314.62 L451.5,314.54 L453.5,314.47" stroke="#e8483a" stroke-width="1.7" fill="none"/>
<path d="M279.50 396.50V413.50M277.10 396.50h4.8M277.10 413.50h4.8 M298.85 407.20V421.20M296.45 407.20h4.8M296.45 421.20h4.8 M318.20 399.30V414.70M315.80 399.30h4.8M315.80 414.70h4.8 M337.55 388.20V406.20M335.15 388.20h4.8M335.15 406.20h4.8 M356.90 377.70V392.10M354.50 377.70h4.8M354.50 392.10h4.8 M376.25 346.30V364.30M373.85 346.30h4.8M373.85 364.30h4.8" stroke="#e8483a" stroke-width="1.0" fill="none"/>
<circle cx="279.50" cy="405.00" r="3.1" fill="#e8483a"/>
<circle cx="298.85" cy="414.20" r="3.1" fill="#e8483a"/>
<circle cx="318.20" cy="407.00" r="3.1" fill="#e8483a"/>
<circle cx="337.55" cy="397.20" r="3.1" fill="#e8483a"/>
<circle cx="356.90" cy="384.90" r="3.1" fill="#e8483a"/>
<circle cx="376.25" cy="355.30" r="3.1" fill="#e8483a"/>
<circle cx="395.60" cy="334.40" r="3.1" fill="#e8483a"/>
<circle cx="414.95" cy="319.60" r="3.1" fill="#e8483a"/>
<circle cx="434.30" cy="315.10" r="3.1" fill="#e8483a"/>
<circle cx="453.65" cy="314.30" r="3.1" fill="#e8483a"/>
<path d="M279.5,394.95 L281.5,394.61 L283.5,394.21 L285.5,393.74 L287.5,393.21 L289.5,392.58 L291.5,391.87 L293.5,391.04 L295.5,390.10 L297.5,389.02 L299.5,387.79 L301.5,386.41 L303.5,384.85 L305.5,383.11 L307.5,381.17 L309.5,379.05 L311.5,376.72 L313.5,374.20 L315.5,371.51 L317.5,368.65 L319.5,365.66 L321.5,362.56 L323.5,359.40 L325.5,356.20 L327.5,353.01 L329.5,349.88 L331.5,346.83 L333.5,343.90 L335.5,341.12 L337.5,338.52 L339.5,336.09 L341.5,333.87 L343.5,331.83 L345.5,330.00 L347.5,328.35 L349.5,326.88 L351.5,325.57 L353.5,324.42 L355.5,323.41 L357.5,322.53 L359.5,321.76 L361.5,321.09 L363.5,320.52 L365.5,320.02 L367.5,319.58 L369.5,319.21 L371.5,318.89 L373.5,318.62 L375.5,318.38 L377.5,318.18 L379.5,318.01 L381.5,317.86 L383.5,317.74 L385.5,317.63 L387.5,317.54 L389.5,317.46 L391.5,317.39 L393.5,317.33 L395.5,317.28 L397.5,317.24 L399.5,317.21 L401.5,317.18 L403.5,317.15 L405.5,317.13 L407.5,317.11 L409.5,317.09 L411.5,317.08 L413.5,317.07 L415.5,317.06 L417.5,317.05 L419.5,317.04 L421.5,317.04 L423.5,317.03 L425.5,317.03 L427.5,317.02 L429.5,317.02 L431.5,317.02 L433.5,317.01 L435.5,317.01 L437.5,317.01 L439.5,317.01 L441.5,317.01 L443.5,317.01 L445.5,317.01 L447.5,317.00 L449.5,317.00 L451.5,317.00 L453.5,317.00" stroke="#24409a" stroke-width="1.7" fill="none"/>
<path d="M279.50 391.10V397.10M277.10 391.10h4.8M277.10 397.10h4.8 M298.85 382.00V390.40M296.45 382.00h4.8M296.45 390.40h4.8 M318.20 365.90V371.10M315.80 365.90h4.8M315.80 371.10h4.8 M337.55 336.00V340.40M335.15 336.00h4.8M335.15 340.40h4.8" stroke="#24409a" stroke-width="1.0" fill="none"/>
<circle cx="279.50" cy="394.10" r="3.1" fill="#24409a"/>
<circle cx="298.85" cy="386.20" r="3.1" fill="#24409a"/>
<circle cx="318.20" cy="368.50" r="3.1" fill="#24409a"/>
<circle cx="337.55" cy="338.20" r="3.1" fill="#24409a"/>
<circle cx="356.90" cy="322.10" r="3.1" fill="#24409a"/>
<circle cx="376.25" cy="318.90" r="3.1" fill="#24409a"/>
<circle cx="395.60" cy="317.60" r="3.1" fill="#24409a"/>
<circle cx="414.95" cy="316.90" r="3.1" fill="#24409a"/>
<circle cx="434.30" cy="316.90" r="3.1" fill="#24409a"/>
<circle cx="453.65" cy="316.90" r="3.1" fill="#24409a"/>
<text transform="translate(285.30,425.6) rotate(-45)" font-size="9.8" text-anchor="end" fill="#1a1a1a">0.1</text>
<text transform="translate(317.40,425.6) rotate(-45)" font-size="9.8" text-anchor="end" fill="#1a1a1a">1</text>
<text transform="translate(349.50,425.6) rotate(-45)" font-size="9.8" text-anchor="end" fill="#1a1a1a">10</text>
<text transform="translate(381.60,425.6) rotate(-45)" font-size="9.8" text-anchor="end" fill="#1a1a1a">100</text>
<text transform="translate(413.70,425.6) rotate(-45)" font-size="9.8" text-anchor="end" fill="#1a1a1a">1,000</text>
<text transform="translate(445.80,425.6) rotate(-45)" font-size="9.8" text-anchor="end" fill="#1a1a1a">10,000</text>
<text transform="translate(477.90,425.6) rotate(-45)" font-size="9.8" text-anchor="end" fill="#1a1a1a">100,000</text>
<text x="360.8" y="458.7" font-size="9.8" text-anchor="middle" fill="#1a1a1a">[Compound] (nmol/L)</text>
<text transform="translate(218.9,369.8) rotate(-90)" font-size="9.95" text-anchor="middle" fill="#1a1a1a">Inhibition of phospho-KIF5B–RET</text>
<rect x="431.5" y="338" width="90" height="54" fill="#fff" stroke="#1a1a1a" stroke-width="0.9"/>
<line x1="437.8" y1="347.40" x2="452.6" y2="347.40" stroke="#24409a" stroke-width="1.6"/>
<circle cx="445.2" cy="347.40" r="3.1" fill="#24409a"/>
<text x="457.1" y="350.90" font-size="10.05" fill="#1a1a1a">BLU-667</text>
<line x1="437.8" y1="359.15" x2="452.6" y2="359.15" stroke="#e8483a" stroke-width="1.6"/>
<circle cx="445.2" cy="359.15" r="3.1" fill="#e8483a"/>
<text x="457.1" y="362.65" font-size="10.05" fill="#1a1a1a">Cabozantinib</text>
<line x1="437.8" y1="370.90" x2="452.6" y2="370.90" stroke="#6a3d9a" stroke-width="1.6"/>
<circle cx="445.2" cy="370.90" r="3.1" fill="#6a3d9a"/>
<text x="457.1" y="374.40" font-size="10.05" fill="#1a1a1a">Vandetanib</text>
<line x1="437.8" y1="382.65" x2="452.6" y2="382.65" stroke="#1f9d55" stroke-width="1.6"/>
<circle cx="445.2" cy="382.65" r="3.1" fill="#1f9d55"/>
<text x="457.1" y="386.15" font-size="10.05" fill="#1a1a1a">RXDX-105</text>
</g>
<text class="pl" x="0.6" y="18.2">A</text>
<text class="pl" x="199.5" y="18.0">B</text>
<text class="pl" x="0.6" y="282.8">C</text>
<text class="pl" x="207.2" y="282.8">D</text>
</svg>
</body></html>
